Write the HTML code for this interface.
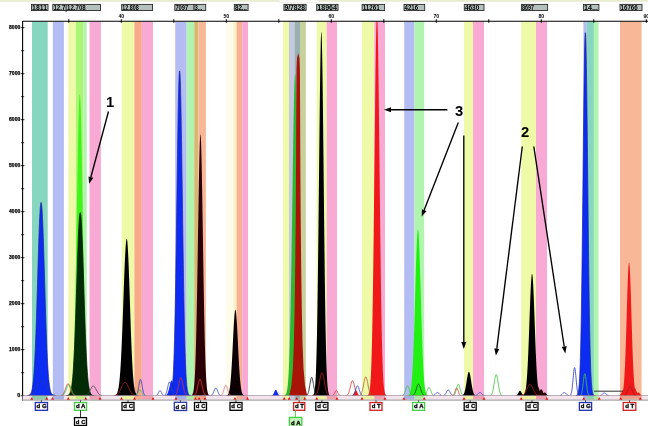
<!DOCTYPE html><html><head><meta charset="utf-8"><style>html,body{margin:0;padding:0;background:#fff;width:648px;height:426px;overflow:hidden}svg{display:block}text{font-family:"Liberation Sans",Arial,sans-serif}</style></head><body>
<svg width="648" height="426" viewBox="0 0 648 426">
<rect x="0" y="0" width="648" height="1.8" fill="#e8ecd0"/>
<rect x="279" y="0" width="40" height="2.4" fill="#fff" stroke="#e0e0d0" stroke-width="0.5"/>
<rect x="32.0" y="21.5" width="15.7" height="374.2" fill="#86d6c0"/>
<rect x="52.8" y="21.5" width="11.1" height="374.2" fill="#b4bcf4"/>
<rect x="68.3" y="21.5" width="7.6" height="374.2" fill="#eefaa8"/>
<rect x="75.9" y="21.5" width="7.5" height="374.2" fill="#acf676"/>
<rect x="83.4" y="21.5" width="3.3" height="374.2" fill="#b0f4b0"/>
<rect x="89.5" y="21.5" width="11.4" height="374.2" fill="#f8aad4"/>
<rect x="121.7" y="21.5" width="12.7" height="374.2" fill="#eefaa8"/>
<rect x="134.4" y="21.5" width="7.4" height="374.2" fill="#f8aa88"/>
<rect x="141.8" y="21.5" width="11.2" height="374.2" fill="#f8aad4"/>
<rect x="175.2" y="21.5" width="11.5" height="374.2" fill="#b4bcf4"/>
<rect x="186.7" y="21.5" width="7.5" height="374.2" fill="#b0f4b0"/>
<rect x="194.2" y="21.5" width="4.3" height="374.2" fill="#d8b870"/>
<rect x="198.5" y="21.5" width="7.4" height="374.2" fill="#f8b898"/>
<rect x="226.1" y="21.5" width="7.2" height="374.2" fill="#fefdec"/>
<rect x="233.3" y="21.5" width="3.3" height="374.2" fill="#faf2c4"/>
<rect x="236.6" y="21.5" width="5.6" height="374.2" fill="#f8b094"/>
<rect x="242.2" y="21.5" width="5.8" height="374.2" fill="#f8aad4"/>
<rect x="283.1" y="21.5" width="5.9" height="374.2" fill="#eefaa8"/>
<rect x="289.0" y="21.5" width="5.5" height="374.2" fill="#c4c8e0"/>
<rect x="294.5" y="21.5" width="5.5" height="374.2" fill="#98b0b0"/>
<rect x="300.0" y="21.5" width="5.8" height="374.2" fill="#c8d09c"/>
<rect x="316.7" y="21.5" width="10.0" height="374.2" fill="#eefaa8"/>
<rect x="326.7" y="21.5" width="10.3" height="374.2" fill="#f8aad4"/>
<rect x="362.0" y="21.5" width="12.3" height="374.2" fill="#eefaa8"/>
<rect x="374.3" y="21.5" width="10.7" height="374.2" fill="#f8aad4"/>
<rect x="404.2" y="21.5" width="10.2" height="374.2" fill="#b4bcf4"/>
<rect x="414.4" y="21.5" width="9.8" height="374.2" fill="#b0f4b0"/>
<rect x="464.0" y="21.5" width="9.0" height="374.2" fill="#eefaa8"/>
<rect x="473.0" y="21.5" width="11.0" height="374.2" fill="#f8aad4"/>
<rect x="521.3" y="21.5" width="14.7" height="374.2" fill="#eefaa8"/>
<rect x="536.0" y="21.5" width="11.0" height="374.2" fill="#f8aad4"/>
<rect x="583.4" y="21.5" width="3.4" height="374.2" fill="#b4bcf4"/>
<rect x="586.8" y="21.5" width="7.1" height="374.2" fill="#86d6c0"/>
<rect x="593.9" y="21.5" width="4.6" height="374.2" fill="#b0f4b0"/>
<rect x="620.0" y="21.5" width="21.6" height="374.2" fill="#f8b898"/>
<path d="M67.8,395.70 L67.8,395.60 L68.0,395.57 L68.2,395.53 L68.4,395.48 L68.6,395.42 L68.8,395.34 L69.0,395.24 L69.2,395.11 L69.4,394.96 L69.6,394.77 L69.8,394.54 L70.0,394.25 L70.2,393.90 L70.4,393.48 L70.6,392.97 L70.8,392.35 L71.0,391.62 L71.2,390.75 L71.4,389.72 L71.6,388.51 L71.8,387.09 L72.0,385.44 L72.2,383.53 L72.4,381.32 L72.6,378.79 L72.8,375.90 L73.0,372.61 L73.2,368.91 L73.4,364.74 L73.6,360.09 L73.8,354.92 L74.0,349.21 L74.2,342.93 L74.4,336.07 L74.6,328.62 L74.8,320.57 L75.0,311.93 L75.2,302.70 L75.4,292.92 L75.6,282.62 L75.8,271.83 L76.0,260.62 L76.2,249.04 L76.4,237.18 L76.6,225.12 L76.8,212.95 L77.0,200.79 L77.2,188.73 L77.4,176.91 L77.6,165.44 L77.8,154.44 L78.0,144.03 L78.2,134.34 L78.4,125.49 L78.6,117.57 L78.8,110.68 L79.0,104.92 L79.2,100.37 L79.4,97.07 L79.6,95.07 L79.8,94.40 L80.0,95.07 L80.2,97.07 L80.4,100.37 L80.6,104.92 L80.8,110.68 L81.0,117.57 L81.2,125.49 L81.4,134.34 L81.6,144.03 L81.8,154.44 L82.0,165.44 L82.2,176.91 L82.4,188.73 L82.6,200.79 L82.8,212.95 L83.0,225.12 L83.2,237.18 L83.4,249.04 L83.6,260.62 L83.8,271.83 L84.0,282.62 L84.2,292.92 L84.4,302.70 L84.6,311.93 L84.8,320.57 L85.0,328.62 L85.2,336.07 L85.4,342.93 L85.6,349.21 L85.8,354.92 L86.0,360.09 L86.2,364.74 L86.4,368.91 L86.6,372.61 L86.8,375.90 L87.0,378.79 L87.2,381.32 L87.4,383.53 L87.6,385.44 L87.8,387.09 L88.0,388.51 L88.2,389.72 L88.4,390.75 L88.6,391.62 L88.8,392.35 L89.0,392.97 L89.2,393.48 L89.4,393.90 L89.6,394.25 L89.8,394.54 L90.0,394.77 L90.2,394.96 L90.4,395.11 L90.6,395.24 L90.8,395.34 L91.0,395.42 L91.2,395.48 L91.4,395.53 L91.6,395.57 L91.8,395.60 L91.8,395.70 Z" fill="#42f41c"/>
<path d="M27.3,395.70 L27.3,395.64 L27.5,395.62 L27.7,395.60 L27.9,395.57 L28.1,395.54 L28.3,395.50 L28.5,395.45 L28.7,395.40 L28.9,395.33 L29.1,395.24 L29.3,395.14 L29.5,395.02 L29.7,394.88 L29.9,394.71 L30.1,394.50 L30.3,394.26 L30.5,393.98 L30.7,393.65 L30.9,393.26 L31.1,392.81 L31.3,392.28 L31.5,391.68 L31.7,390.98 L31.9,390.18 L32.1,389.27 L32.3,388.23 L32.5,387.06 L32.7,385.73 L32.9,384.24 L33.1,382.57 L33.3,380.70 L33.5,378.63 L33.7,376.34 L33.9,373.81 L34.1,371.04 L34.3,368.00 L34.5,364.70 L34.7,361.13 L34.9,357.27 L35.1,353.12 L35.3,348.68 L35.5,343.95 L35.7,338.94 L35.9,333.66 L36.1,328.11 L36.3,322.30 L36.5,316.27 L36.7,310.03 L36.9,303.62 L37.1,297.05 L37.3,290.37 L37.5,283.61 L37.7,276.82 L37.9,270.04 L38.1,263.32 L38.3,256.71 L38.5,250.26 L38.7,244.02 L38.9,238.05 L39.1,232.38 L39.3,227.08 L39.5,222.20 L39.7,217.77 L39.9,213.84 L40.1,210.45 L40.3,207.63 L40.5,205.40 L40.7,203.79 L40.9,202.82 L41.1,202.50 L41.3,202.82 L41.5,203.79 L41.7,205.40 L41.9,207.63 L42.1,210.45 L42.3,213.84 L42.5,217.77 L42.7,222.20 L42.9,227.08 L43.1,232.38 L43.3,238.05 L43.5,244.02 L43.7,250.26 L43.9,256.71 L44.1,263.32 L44.3,270.04 L44.5,276.82 L44.7,283.61 L44.9,290.37 L45.1,297.05 L45.3,303.62 L45.5,310.03 L45.7,316.27 L45.9,322.30 L46.1,328.11 L46.3,333.66 L46.5,338.94 L46.7,343.95 L46.9,348.68 L47.1,353.12 L47.3,357.27 L47.5,361.13 L47.7,364.70 L47.9,368.00 L48.1,371.04 L48.3,373.81 L48.5,376.34 L48.7,378.63 L48.9,380.70 L49.1,382.57 L49.3,384.24 L49.5,385.73 L49.7,387.06 L49.9,388.23 L50.1,389.27 L50.3,390.18 L50.5,390.98 L50.7,391.68 L50.9,392.28 L51.1,392.81 L51.3,393.26 L51.5,393.65 L51.7,393.98 L51.9,394.26 L52.1,394.50 L52.3,394.71 L52.5,394.88 L52.7,395.02 L52.9,395.14 L53.1,395.24 L53.3,395.33 L53.5,395.40 L53.7,395.45 L53.9,395.50 L54.1,395.54 L54.3,395.57 L54.5,395.60 L54.7,395.62 L54.9,395.64 L54.9,395.70 Z" fill="#0c2cf4" stroke="#1a2298" stroke-width="0.7"/>
<path d="M66.2,395.70 L66.2,395.64 L66.4,395.62 L66.6,395.60 L66.8,395.58 L67.0,395.55 L67.2,395.52 L67.4,395.47 L67.6,395.42 L67.8,395.36 L68.0,395.28 L68.2,395.19 L68.4,395.08 L68.6,394.95 L68.8,394.80 L69.0,394.61 L69.2,394.40 L69.4,394.15 L69.6,393.85 L69.8,393.50 L70.0,393.10 L70.2,392.64 L70.4,392.10 L70.6,391.49 L70.8,390.78 L71.0,389.97 L71.2,389.06 L71.4,388.02 L71.6,386.85 L71.8,385.53 L72.0,384.06 L72.2,382.42 L72.4,380.59 L72.6,378.57 L72.8,376.34 L73.0,373.88 L73.2,371.20 L73.4,368.28 L73.6,365.11 L73.8,361.69 L74.0,358.00 L74.2,354.05 L74.4,349.83 L74.6,345.35 L74.8,340.61 L75.0,335.63 L75.2,330.40 L75.4,324.95 L75.6,319.29 L75.8,313.44 L76.0,307.44 L76.2,301.30 L76.4,295.07 L76.6,288.77 L76.8,282.44 L77.0,276.13 L77.2,269.88 L77.4,263.73 L77.6,257.73 L77.8,251.92 L78.0,246.35 L78.2,241.07 L78.4,236.12 L78.6,231.55 L78.8,227.40 L79.0,223.70 L79.2,220.48 L79.4,217.79 L79.6,215.64 L79.8,214.05 L80.0,213.05 L80.2,212.63 L80.4,212.81 L80.6,213.58 L80.8,214.94 L81.0,216.86 L81.2,219.34 L81.4,222.35 L81.6,225.86 L81.8,229.84 L82.0,234.25 L82.2,239.05 L82.4,244.20 L82.6,249.66 L82.8,255.38 L83.0,261.31 L83.2,267.40 L83.4,273.62 L83.6,279.91 L83.8,286.24 L84.0,292.55 L84.2,298.82 L84.4,305.00 L84.6,311.06 L84.8,316.97 L85.0,322.71 L85.2,328.24 L85.4,333.56 L85.6,338.65 L85.8,343.49 L86.0,348.07 L86.2,352.39 L86.4,356.45 L86.6,360.24 L86.8,363.77 L87.0,367.05 L87.2,370.06 L87.4,372.84 L87.6,375.38 L87.8,377.70 L88.0,379.80 L88.2,381.71 L88.4,383.42 L88.6,384.96 L88.8,386.34 L89.0,387.57 L89.2,388.66 L89.4,389.62 L89.6,390.47 L89.8,391.21 L90.0,391.87 L90.2,392.43 L90.4,392.93 L90.6,393.35 L90.8,393.72 L91.0,394.03 L91.2,394.30 L91.4,394.53 L91.6,394.73 L91.8,394.89 L92.0,395.03 L92.2,395.15 L92.4,395.25 L92.6,395.33 L92.8,395.40 L93.0,395.45 L93.2,395.50 L93.4,395.54 L93.6,395.57 L93.8,395.59 L94.0,395.62 L94.2,395.63 L94.2,395.70 Z" fill="#032c06" stroke="#001800" stroke-width="0.7"/>
<path d="M113.3,395.70 L113.3,395.65 L113.5,395.63 L113.7,395.62 L113.9,395.59 L114.1,395.57 L114.3,395.53 L114.5,395.49 L114.7,395.44 L114.9,395.38 L115.1,395.31 L115.3,395.22 L115.5,395.12 L115.7,394.99 L115.9,394.84 L116.1,394.66 L116.3,394.44 L116.5,394.19 L116.7,393.89 L116.9,393.54 L117.1,393.14 L117.3,392.67 L117.5,392.12 L117.7,391.49 L117.9,390.77 L118.1,389.94 L118.3,389.00 L118.5,387.94 L118.7,386.73 L118.9,385.38 L119.1,383.86 L119.3,382.17 L119.5,380.29 L119.7,378.22 L119.9,375.93 L120.1,373.42 L120.3,370.69 L120.5,367.71 L120.7,364.50 L120.9,361.03 L121.1,357.32 L121.3,353.37 L121.5,349.17 L121.7,344.73 L121.9,340.07 L122.1,335.20 L122.3,330.13 L122.5,324.89 L122.7,319.50 L122.9,313.99 L123.1,308.39 L123.3,302.74 L123.5,297.08 L123.7,291.43 L123.9,285.86 L124.1,280.40 L124.3,275.09 L124.5,269.99 L124.7,265.13 L124.9,260.56 L125.1,256.33 L125.3,252.48 L125.5,249.04 L125.7,246.05 L125.9,243.53 L126.1,241.52 L126.3,240.04 L126.5,239.10 L126.7,238.71 L126.9,238.91 L127.1,239.74 L127.3,241.21 L127.5,243.29 L127.7,245.96 L127.9,249.19 L128.1,252.93 L128.3,257.15 L128.5,261.80 L128.7,266.82 L128.9,272.16 L129.1,277.76 L129.3,283.58 L129.5,289.54 L129.7,295.60 L129.9,301.70 L130.1,307.79 L130.3,313.82 L130.5,319.75 L130.7,325.54 L130.9,331.16 L131.1,336.57 L131.3,341.74 L131.5,346.67 L131.7,351.33 L131.9,355.71 L132.1,359.81 L132.3,363.62 L132.5,367.14 L132.7,370.38 L132.9,373.34 L133.1,376.04 L133.3,378.48 L133.5,380.69 L133.7,382.66 L133.9,384.42 L134.1,385.98 L134.3,387.36 L134.5,388.58 L134.7,389.64 L134.9,390.56 L135.1,391.37 L135.3,392.06 L135.5,392.65 L135.7,393.16 L135.9,393.59 L136.1,393.96 L136.3,394.26 L136.5,394.52 L136.7,394.74 L136.9,394.92 L137.1,395.07 L137.3,395.19 L137.5,395.29 L137.7,395.37 L137.9,395.44 L138.1,395.49 L138.3,395.54 L138.5,395.57 L138.7,395.60 L138.9,395.62 L139.1,395.64 L139.1,395.70 Z" fill="#000"/>
<path d="M163.2,395.70 L163.2,395.69 L163.4,395.69 L163.6,395.69 L163.8,395.68 L164.0,395.68 L164.2,395.67 L164.4,395.66 L164.6,395.64 L164.8,395.62 L165.0,395.59 L165.2,395.55 L165.4,395.51 L165.6,395.44 L165.8,395.37 L166.0,395.27 L166.2,395.14 L166.4,394.99 L166.6,394.81 L166.8,394.59 L167.0,394.32 L167.2,394.01 L167.4,393.65 L167.6,393.23 L167.8,392.75 L168.0,392.21 L168.2,391.61 L168.4,390.95 L168.6,390.23 L168.8,389.46 L169.0,388.65 L169.2,387.80 L169.4,386.93 L169.6,386.05 L169.8,385.19 L170.0,384.34 L170.2,383.54 L170.4,382.81 L170.6,382.15 L170.8,381.58 L171.0,381.13 L171.2,380.79 L171.4,380.59 L171.6,380.52 L171.8,380.59 L172.0,380.79 L172.2,381.13 L172.4,381.58 L172.6,382.15 L172.8,382.81 L173.0,383.54 L173.2,384.34 L173.4,385.19 L173.6,386.05 L173.8,386.93 L174.0,387.80 L174.2,388.65 L174.4,389.46 L174.6,390.23 L174.8,390.95 L175.0,391.61 L175.2,392.21 L175.4,392.75 L175.6,393.23 L175.8,393.65 L176.0,394.01 L176.2,394.32 L176.4,394.59 L176.6,394.81 L176.8,394.99 L177.0,395.14 L177.2,395.27 L177.4,395.37 L177.6,395.44 L177.8,395.51 L178.0,395.55 L178.2,395.59 L178.4,395.62 L178.6,395.64 L178.8,395.66 L179.0,395.67 L179.2,395.68 L179.4,395.68 L179.6,395.69 L179.8,395.69 L180.0,395.69 L180.0,395.70 Z" fill="#0c2cf4"/>
<path d="M168.7,395.70 L168.7,395.59 L168.9,395.55 L169.1,395.51 L169.3,395.44 L169.5,395.36 L169.7,395.26 L169.9,395.13 L170.1,394.96 L170.3,394.74 L170.5,394.47 L170.7,394.14 L170.9,393.72 L171.1,393.21 L171.3,392.57 L171.5,391.80 L171.7,390.87 L171.9,389.74 L172.1,388.38 L172.3,386.77 L172.5,384.86 L172.7,382.62 L172.9,379.99 L173.1,376.94 L173.3,373.41 L173.5,369.36 L173.7,364.74 L173.9,359.51 L174.1,353.62 L174.3,347.03 L174.5,339.71 L174.7,331.64 L174.9,322.79 L175.1,313.17 L175.3,302.78 L175.5,291.63 L175.7,279.78 L175.9,267.27 L176.1,254.16 L176.3,240.56 L176.5,226.56 L176.7,212.28 L176.9,197.86 L177.1,183.45 L177.3,169.21 L177.5,155.31 L177.7,141.92 L177.9,129.21 L178.1,117.37 L178.3,106.56 L178.5,96.94 L178.7,88.65 L178.9,81.82 L179.1,76.55 L179.3,72.93 L179.5,71.02 L179.7,70.85 L179.9,72.41 L180.1,75.69 L180.3,80.64 L180.5,87.16 L180.7,95.17 L180.9,104.54 L181.1,115.12 L181.3,126.77 L181.5,139.32 L181.7,152.58 L181.9,166.40 L182.1,180.58 L182.3,194.97 L182.5,209.40 L182.7,223.72 L182.9,237.79 L183.1,251.48 L183.3,264.69 L183.5,277.33 L183.7,289.32 L183.9,300.61 L184.1,311.15 L184.3,320.93 L184.5,329.93 L184.7,338.16 L184.9,345.63 L185.1,352.36 L185.3,358.39 L185.5,363.75 L185.7,368.48 L185.9,372.64 L186.1,376.27 L186.3,379.42 L186.5,382.13 L186.7,384.44 L186.9,386.42 L187.1,388.08 L187.3,389.49 L187.5,390.66 L187.7,391.63 L187.9,392.43 L188.1,393.09 L188.3,393.63 L188.5,394.06 L188.7,394.41 L188.9,394.69 L189.1,394.92 L189.3,395.09 L189.5,395.23 L189.7,395.34 L189.9,395.43 L190.1,395.49 L190.3,395.55 L190.5,395.58 L190.5,395.70 Z" fill="#0c2cf4" stroke="#1a2298" stroke-width="0.7"/>
<path d="M190.6,395.70 L190.6,395.61 L190.8,395.58 L191.0,395.53 L191.2,395.47 L191.4,395.39 L191.6,395.29 L191.8,395.15 L192.0,394.97 L192.2,394.74 L192.4,394.45 L192.6,394.07 L192.8,393.60 L193.0,393.00 L193.2,392.26 L193.4,391.34 L193.6,390.22 L193.8,388.85 L194.0,387.20 L194.2,385.22 L194.4,382.86 L194.6,380.08 L194.8,376.82 L195.0,373.02 L195.2,368.65 L195.4,363.64 L195.6,357.95 L195.8,351.55 L196.0,344.40 L196.2,336.49 L196.4,327.81 L196.6,318.36 L196.8,308.19 L197.0,297.33 L197.2,285.85 L197.4,273.84 L197.6,261.40 L197.8,248.67 L198.0,235.80 L198.2,222.94 L198.4,210.28 L198.6,198.00 L198.8,186.30 L199.0,175.37 L199.2,165.39 L199.4,156.55 L199.6,149.00 L199.8,142.89 L200.0,138.34 L200.2,135.43 L200.4,134.22 L200.6,134.74 L200.8,136.98 L201.0,140.88 L201.2,146.38 L201.4,153.36 L201.6,161.71 L201.8,171.25 L202.0,181.82 L202.2,193.24 L202.4,205.31 L202.6,217.84 L202.8,230.64 L203.0,243.53 L203.2,256.34 L203.4,268.91 L203.6,281.10 L203.8,292.81 L204.0,303.92 L204.2,314.38 L204.4,324.12 L204.6,333.11 L204.8,341.33 L205.0,348.78 L205.2,355.48 L205.4,361.45 L205.6,366.72 L205.8,371.34 L206.0,375.37 L206.2,378.83 L206.4,381.80 L206.6,384.33 L206.8,386.45 L207.0,388.23 L207.2,389.71 L207.4,390.92 L207.6,391.92 L207.8,392.72 L208.0,393.37 L208.2,393.89 L208.4,394.31 L208.6,394.63 L208.8,394.89 L209.0,395.09 L209.2,395.24 L209.4,395.36 L209.6,395.44 L209.8,395.51 L210.0,395.56 L210.2,395.60 L210.2,395.70 Z" fill="#2a0008"/>
<path d="M225.2,395.70 L225.2,395.67 L225.4,395.66 L225.6,395.65 L225.8,395.63 L226.0,395.60 L226.2,395.57 L226.4,395.53 L226.6,395.48 L226.8,395.41 L227.0,395.32 L227.2,395.21 L227.4,395.07 L227.6,394.90 L227.8,394.69 L228.0,394.42 L228.2,394.10 L228.4,393.71 L228.6,393.24 L228.8,392.68 L229.0,392.01 L229.2,391.22 L229.4,390.30 L229.6,389.23 L229.8,387.98 L230.0,386.56 L230.2,384.94 L230.4,383.12 L230.6,381.07 L230.8,378.80 L231.0,376.29 L231.2,373.54 L231.4,370.56 L231.6,367.36 L231.8,363.95 L232.0,360.34 L232.2,356.56 L232.4,352.64 L232.6,348.63 L232.8,344.55 L233.0,340.46 L233.2,336.41 L233.4,332.46 L233.6,328.65 L233.8,325.05 L234.0,321.71 L234.2,318.70 L234.4,316.05 L234.6,313.81 L234.8,312.03 L235.0,310.73 L235.2,309.94 L235.4,309.68 L235.6,309.94 L235.8,310.73 L236.0,312.03 L236.2,313.81 L236.4,316.05 L236.6,318.70 L236.8,321.71 L237.0,325.05 L237.2,328.65 L237.4,332.46 L237.6,336.41 L237.8,340.46 L238.0,344.55 L238.2,348.63 L238.4,352.64 L238.6,356.56 L238.8,360.34 L239.0,363.95 L239.2,367.36 L239.4,370.56 L239.6,373.54 L239.8,376.29 L240.0,378.80 L240.2,381.07 L240.4,383.12 L240.6,384.94 L240.8,386.56 L241.0,387.98 L241.2,389.23 L241.4,390.30 L241.6,391.22 L241.8,392.01 L242.0,392.68 L242.2,393.24 L242.4,393.71 L242.6,394.10 L242.8,394.42 L243.0,394.69 L243.2,394.90 L243.4,395.07 L243.6,395.21 L243.8,395.32 L244.0,395.41 L244.2,395.48 L244.4,395.53 L244.6,395.57 L244.8,395.60 L245.0,395.63 L245.2,395.65 L245.4,395.66 L245.6,395.67 L245.6,395.70 Z" fill="#0c0004"/>
<path d="M269.8,395.70 L269.8,395.70 L270.0,395.70 L270.2,395.69 L270.4,395.69 L270.6,395.69 L270.8,395.68 L271.0,395.66 L271.2,395.65 L271.4,395.62 L271.6,395.58 L271.8,395.53 L272.0,395.46 L272.2,395.36 L272.4,395.24 L272.6,395.09 L272.8,394.89 L273.0,394.65 L273.2,394.37 L273.4,394.04 L273.6,393.66 L273.8,393.24 L274.0,392.79 L274.2,392.31 L274.4,391.83 L274.6,391.36 L274.8,390.91 L275.0,390.51 L275.2,390.18 L275.4,389.93 L275.6,389.77 L275.8,389.72 L276.0,389.77 L276.2,389.93 L276.4,390.18 L276.6,390.51 L276.8,390.91 L277.0,391.36 L277.2,391.83 L277.4,392.31 L277.6,392.79 L277.8,393.24 L278.0,393.66 L278.2,394.04 L278.4,394.37 L278.6,394.65 L278.8,394.89 L279.0,395.09 L279.2,395.24 L279.4,395.36 L279.6,395.46 L279.8,395.53 L280.0,395.58 L280.2,395.62 L280.4,395.65 L280.6,395.66 L280.8,395.68 L281.0,395.69 L281.2,395.69 L281.4,395.69 L281.6,395.70 L281.8,395.70 L281.8,395.70 Z" fill="#0c2cf4"/>
<path d="M283.8,395.70 L283.8,395.59 L284.0,395.56 L284.2,395.51 L284.4,395.45 L284.6,395.38 L284.8,395.29 L285.0,395.17 L285.2,395.02 L285.4,394.83 L285.6,394.59 L285.8,394.30 L286.0,393.94 L286.2,393.50 L286.4,392.96 L286.6,392.31 L286.8,391.52 L287.0,390.57 L287.2,389.44 L287.4,388.09 L287.6,386.50 L287.8,384.64 L288.0,382.46 L288.2,379.93 L288.4,377.01 L288.6,373.65 L288.8,369.83 L289.0,365.49 L289.2,360.59 L289.4,355.10 L289.6,348.98 L289.8,342.21 L290.0,334.75 L290.2,326.60 L290.4,317.73 L290.6,308.17 L290.8,297.91 L291.0,286.99 L291.2,275.44 L291.4,263.32 L291.6,250.70 L291.8,237.64 L292.0,224.27 L292.2,210.67 L292.4,196.97 L292.6,183.31 L292.8,169.83 L293.0,156.66 L293.2,143.98 L293.4,131.92 L293.6,120.65 L293.8,110.30 L294.0,101.01 L294.2,92.92 L294.4,86.14 L294.6,80.76 L294.8,76.86 L295.0,74.49 L295.2,73.70 L295.4,74.49 L295.6,76.86 L295.8,80.76 L296.0,86.14 L296.2,92.92 L296.4,101.01 L296.6,110.30 L296.8,120.65 L297.0,131.92 L297.2,143.98 L297.4,156.66 L297.6,169.83 L297.8,183.31 L298.0,196.97 L298.2,210.67 L298.4,224.27 L298.6,237.64 L298.8,250.70 L299.0,263.32 L299.2,275.44 L299.4,286.99 L299.6,297.91 L299.8,308.17 L300.0,317.73 L300.2,326.60 L300.4,334.75 L300.6,342.21 L300.8,348.98 L301.0,355.10 L301.2,360.59 L301.4,365.49 L301.6,369.83 L301.8,373.65 L302.0,377.01 L302.2,379.93 L302.4,382.46 L302.6,384.64 L302.8,386.50 L303.0,388.09 L303.2,389.44 L303.4,390.57 L303.6,391.52 L303.8,392.31 L304.0,392.96 L304.2,393.50 L304.4,393.94 L304.6,394.30 L304.8,394.59 L305.0,394.83 L305.2,395.02 L305.4,395.17 L305.6,395.29 L305.8,395.38 L306.0,395.45 L306.2,395.51 L306.4,395.56 L306.6,395.59 L306.6,395.70 Z" fill="#2cb82c"/>
<path d="M289.20,395.70 L291.40,385.42 L292.90,368.28 L293.90,342.58 L294.60,310.02 L295.30,258.62 L295.80,207.21 L296.10,155.81 L296.30,104.41 L296.50,70.13 L297.00,58.14 L298.20,53.00 L298.20,53.00 L299.40,58.14 L299.90,70.13 L300.10,104.41 L300.30,155.81 L300.60,207.21 L301.10,258.62 L301.80,310.02 L302.50,342.58 L303.50,368.28 L305.00,385.42 L307.20,395.70 Z" fill="#a81408"/>
<path d="M312.1,395.70 L312.1,395.58 L312.3,395.53 L312.5,395.46 L312.7,395.37 L312.9,395.24 L313.1,395.07 L313.3,394.85 L313.5,394.55 L313.7,394.17 L313.9,393.67 L314.1,393.02 L314.3,392.20 L314.5,391.16 L314.7,389.85 L314.9,388.23 L315.1,386.23 L315.3,383.77 L315.5,380.80 L315.7,377.22 L315.9,372.96 L316.1,367.92 L316.3,362.02 L316.5,355.17 L316.7,347.29 L316.9,338.31 L317.1,328.17 L317.3,316.83 L317.5,304.28 L317.7,290.52 L317.9,275.60 L318.1,259.58 L318.3,242.58 L318.5,224.75 L318.7,206.26 L318.9,187.34 L319.1,168.24 L319.3,149.24 L319.5,130.65 L319.7,112.79 L319.9,95.98 L320.1,80.54 L320.3,66.78 L320.5,54.99 L320.7,45.41 L320.9,38.25 L321.1,33.66 L321.3,31.76 L321.5,32.57 L321.7,36.10 L321.9,42.24 L322.1,50.88 L322.3,61.82 L322.5,74.82 L322.7,89.62 L322.9,105.92 L323.1,123.40 L323.3,141.74 L323.5,160.61 L323.7,179.70 L323.9,198.73 L324.1,217.42 L324.3,235.54 L324.5,252.89 L324.7,269.32 L324.9,284.69 L325.1,298.92 L325.3,311.96 L325.5,323.78 L325.7,334.39 L325.9,343.83 L326.1,352.14 L326.3,359.40 L326.5,365.67 L326.7,371.04 L326.9,375.60 L327.1,379.45 L327.3,382.65 L327.5,385.30 L327.7,387.48 L327.9,389.25 L328.1,390.67 L328.3,391.81 L328.5,392.72 L328.7,393.43 L328.9,393.98 L329.1,394.41 L329.3,394.74 L329.5,394.99 L329.7,395.18 L329.9,395.32 L330.1,395.43 L330.3,395.50 L330.5,395.56 L330.5,395.70 Z" fill="#000"/>
<path d="M349.8,395.70 L349.8,395.70 L350.0,395.70 L350.2,395.69 L350.4,395.69 L350.6,395.69 L350.8,395.68 L351.0,395.67 L351.2,395.65 L351.4,395.63 L351.6,395.59 L351.8,395.54 L352.0,395.48 L352.2,395.39 L352.4,395.28 L352.6,395.13 L352.8,394.95 L353.0,394.73 L353.2,394.47 L353.4,394.17 L353.6,393.82 L353.8,393.43 L354.0,393.01 L354.2,392.57 L354.4,392.13 L354.6,391.69 L354.8,391.28 L355.0,390.91 L355.2,390.60 L355.4,390.37 L355.6,390.23 L355.8,390.18 L356.0,390.23 L356.2,390.37 L356.4,390.60 L356.6,390.91 L356.8,391.28 L357.0,391.69 L357.2,392.13 L357.4,392.57 L357.6,393.01 L357.8,393.43 L358.0,393.82 L358.2,394.17 L358.4,394.47 L358.6,394.73 L358.8,394.95 L359.0,395.13 L359.2,395.28 L359.4,395.39 L359.6,395.48 L359.8,395.54 L360.0,395.59 L360.2,395.63 L360.4,395.65 L360.6,395.67 L360.8,395.68 L361.0,395.69 L361.2,395.69 L361.4,395.69 L361.6,395.70 L361.8,395.70 L361.8,395.70 Z" fill="#f01818"/>
<path d="M366.9,395.70 L366.9,395.57 L367.1,395.52 L367.3,395.46 L367.5,395.38 L367.7,395.27 L367.9,395.12 L368.1,394.93 L368.3,394.69 L368.5,394.37 L368.7,393.97 L368.9,393.46 L369.1,392.83 L369.3,392.03 L369.5,391.04 L369.7,389.82 L369.9,388.32 L370.1,386.51 L370.3,384.32 L370.5,381.70 L370.7,378.59 L370.9,374.91 L371.1,370.60 L371.3,365.59 L371.5,359.81 L371.7,353.18 L371.9,345.65 L372.1,337.15 L372.3,327.64 L372.5,317.08 L372.7,305.45 L372.9,292.75 L373.1,279.00 L373.3,264.25 L373.5,248.56 L373.7,232.03 L373.9,214.79 L374.1,196.99 L374.3,178.81 L374.5,160.45 L374.7,142.14 L374.9,124.12 L375.1,106.65 L375.3,89.98 L375.5,74.38 L375.7,60.11 L375.9,47.40 L376.1,36.48 L376.3,27.55 L376.5,21.50 L376.7,21.50 L376.9,21.50 L377.1,21.50 L377.3,21.50 L377.5,21.94 L377.7,29.17 L377.9,38.51 L378.1,49.81 L378.3,62.84 L378.5,77.40 L378.7,93.23 L378.9,110.08 L379.1,127.69 L379.3,145.79 L379.5,164.13 L379.7,182.47 L379.9,200.59 L380.1,218.29 L380.3,235.40 L380.5,251.77 L380.7,267.28 L380.9,281.83 L381.1,295.38 L381.3,307.86 L381.5,319.28 L381.7,329.62 L381.9,338.93 L382.1,347.23 L382.3,354.58 L382.5,361.03 L382.7,366.66 L382.9,371.52 L383.1,375.70 L383.3,379.25 L383.5,382.27 L383.7,384.79 L383.9,386.90 L384.1,388.65 L384.3,390.08 L384.5,391.25 L384.7,392.20 L384.9,392.97 L385.1,393.58 L385.3,394.06 L385.5,394.44 L385.7,394.74 L385.9,394.97 L386.1,395.15 L386.3,395.29 L386.5,395.40 L386.7,395.48 L386.9,395.54 L386.9,395.70 Z" fill="#f01818"/>
<path d="M406.7,395.70 L406.7,395.64 L406.9,395.63 L407.1,395.60 L407.3,395.57 L407.5,395.53 L407.7,395.48 L407.9,395.42 L408.1,395.34 L408.3,395.24 L408.5,395.11 L408.7,394.96 L408.9,394.77 L409.1,394.53 L409.3,394.24 L409.5,393.89 L409.7,393.46 L409.9,392.95 L410.1,392.34 L410.3,391.62 L410.5,390.76 L410.7,389.75 L410.9,388.58 L411.1,387.21 L411.3,385.63 L411.5,383.82 L411.7,381.75 L411.9,379.40 L412.1,376.76 L412.3,373.80 L412.5,370.50 L412.7,366.84 L412.9,362.83 L413.1,358.44 L413.3,353.69 L413.5,348.56 L413.7,343.07 L413.9,337.23 L414.1,331.08 L414.3,324.63 L414.5,317.94 L414.7,311.04 L414.9,303.99 L415.1,296.85 L415.3,289.69 L415.5,282.58 L415.7,275.61 L415.9,268.84 L416.1,262.36 L416.3,256.26 L416.5,250.60 L416.7,245.48 L416.9,240.95 L417.1,237.09 L417.3,233.95 L417.5,231.57 L417.7,230.00 L417.9,229.25 L418.1,229.33 L418.3,230.25 L418.5,231.99 L418.7,234.52 L418.9,237.81 L419.1,241.81 L419.3,246.46 L419.5,251.69 L419.7,257.44 L419.9,263.63 L420.1,270.17 L420.3,276.99 L420.5,284.00 L420.7,291.12 L420.9,298.28 L421.1,305.41 L421.3,312.43 L421.5,319.29 L421.7,325.94 L421.9,332.33 L422.1,338.42 L422.3,344.19 L422.5,349.61 L422.7,354.67 L422.9,359.35 L423.1,363.66 L423.3,367.60 L423.5,371.18 L423.7,374.42 L423.9,377.31 L424.1,379.90 L424.3,382.19 L424.5,384.20 L424.7,385.96 L424.9,387.50 L425.1,388.83 L425.3,389.97 L425.5,390.94 L425.7,391.77 L425.9,392.47 L426.1,393.06 L426.3,393.56 L426.5,393.96 L426.7,394.30 L426.9,394.58 L427.1,394.81 L427.3,394.99 L427.5,395.14 L427.7,395.26 L427.9,395.36 L428.1,395.43 L428.3,395.49 L428.5,395.54 L428.7,395.58 L428.9,395.61 L429.1,395.63 L429.1,395.70 Z" fill="#22f012"/>
<path d="M459.9,395.70 L459.9,395.69 L460.1,395.69 L460.3,395.68 L460.5,395.68 L460.7,395.67 L460.9,395.66 L461.1,395.64 L461.3,395.62 L461.5,395.59 L461.7,395.56 L461.9,395.51 L462.1,395.45 L462.3,395.38 L462.5,395.28 L462.7,395.16 L462.9,395.02 L463.1,394.84 L463.3,394.62 L463.5,394.36 L463.7,394.04 L463.9,393.67 L464.1,393.24 L464.3,392.74 L464.5,392.17 L464.7,391.51 L464.9,390.77 L465.1,389.95 L465.3,389.05 L465.5,388.06 L465.7,387.00 L465.9,385.87 L466.1,384.67 L466.3,383.43 L466.5,382.16 L466.7,380.87 L466.9,379.59 L467.1,378.33 L467.3,377.12 L467.5,375.99 L467.7,374.95 L467.9,374.03 L468.1,373.25 L468.3,372.62 L468.5,372.16 L468.7,371.87 L468.9,371.78 L469.1,371.87 L469.3,372.16 L469.5,372.62 L469.7,373.25 L469.9,374.03 L470.1,374.95 L470.3,375.99 L470.5,377.12 L470.7,378.33 L470.9,379.59 L471.1,380.87 L471.3,382.16 L471.5,383.43 L471.7,384.67 L471.9,385.87 L472.1,387.00 L472.3,388.06 L472.5,389.05 L472.7,389.95 L472.9,390.77 L473.1,391.51 L473.3,392.17 L473.5,392.74 L473.7,393.24 L473.9,393.67 L474.1,394.04 L474.3,394.36 L474.5,394.62 L474.7,394.84 L474.9,395.02 L475.1,395.16 L475.3,395.28 L475.5,395.38 L475.7,395.45 L475.9,395.51 L476.1,395.56 L476.3,395.59 L476.5,395.62 L476.7,395.64 L476.9,395.66 L477.1,395.67 L477.3,395.68 L477.5,395.68 L477.7,395.69 L477.9,395.69 L477.9,395.70 Z" fill="#000"/>
<path d="M514.0,395.70 L514.0,395.70 L514.2,395.70 L514.4,395.70 L514.6,395.69 L514.8,395.69 L515.0,395.68 L515.2,395.67 L515.4,395.65 L515.6,395.63 L515.8,395.60 L516.0,395.56 L516.2,395.50 L516.4,395.42 L516.6,395.31 L516.8,395.18 L517.0,395.02 L517.2,394.81 L517.4,394.57 L517.6,394.29 L517.8,393.97 L518.0,393.62 L518.2,393.24 L518.4,392.84 L518.6,392.43 L518.8,392.03 L519.0,391.65 L519.2,391.31 L519.4,391.03 L519.6,390.82 L519.8,390.68 L520.0,390.64 L520.2,390.68 L520.4,390.82 L520.6,391.03 L520.8,391.31 L521.0,391.65 L521.2,392.03 L521.4,392.43 L521.6,392.84 L521.8,393.24 L522.0,393.62 L522.2,393.97 L522.4,394.29 L522.6,394.57 L522.8,394.81 L523.0,395.02 L523.2,395.18 L523.4,395.31 L523.6,395.42 L523.8,395.50 L524.0,395.56 L524.2,395.60 L524.4,395.63 L524.6,395.65 L524.8,395.67 L525.0,395.68 L525.2,395.69 L525.4,395.69 L525.6,395.70 L525.8,395.70 L526.0,395.70 L526.0,395.70 Z" fill="#000"/>
<path d="M521.6,395.70 L521.6,395.66 L521.8,395.64 L522.0,395.63 L522.2,395.60 L522.4,395.57 L522.6,395.52 L522.8,395.47 L523.0,395.40 L523.2,395.31 L523.4,395.19 L523.6,395.05 L523.8,394.87 L524.0,394.64 L524.2,394.36 L524.4,394.02 L524.6,393.60 L524.8,393.10 L525.0,392.49 L525.2,391.77 L525.4,390.91 L525.6,389.89 L525.8,388.70 L526.0,387.32 L526.2,385.73 L526.4,383.90 L526.6,381.81 L526.8,379.45 L527.0,376.81 L527.2,373.86 L527.4,370.60 L527.6,367.02 L527.8,363.12 L528.0,358.91 L528.2,354.40 L528.4,349.61 L528.6,344.56 L528.8,339.29 L529.0,333.84 L529.2,328.26 L529.4,322.61 L529.6,316.96 L529.8,311.36 L530.0,305.89 L530.2,300.62 L530.4,295.64 L530.6,291.01 L530.8,286.81 L531.0,283.10 L531.2,279.95 L531.4,277.41 L531.6,275.52 L531.8,274.31 L532.0,273.81 L532.2,274.03 L532.4,274.95 L532.6,276.57 L532.8,278.86 L533.0,281.77 L533.2,285.26 L533.4,289.27 L533.6,293.74 L533.8,298.59 L534.0,303.75 L534.2,309.15 L534.4,314.70 L534.6,320.35 L534.8,326.01 L535.0,331.62 L535.2,337.13 L535.4,342.47 L535.6,347.61 L535.8,352.51 L536.0,357.14 L536.2,361.47 L536.4,365.50 L536.6,369.20 L536.8,372.59 L537.0,375.67 L537.2,378.43 L537.4,380.90 L537.6,383.09 L537.8,385.02 L538.0,386.71 L538.2,388.18 L538.4,389.44 L538.6,390.52 L538.8,391.44 L539.0,392.22 L539.2,392.87 L539.4,393.41 L539.6,393.86 L539.8,394.23 L540.0,394.54 L540.2,394.78 L540.4,394.98 L540.6,395.14 L540.8,395.26 L541.0,395.36 L541.2,395.44 L541.4,395.50 L541.6,395.55 L541.8,395.59 L542.0,395.62 L542.2,395.64 L542.4,395.65 L542.4,395.70 Z" fill="#000"/>
<path d="M520.6,395.70 L520.6,395.70 L520.8,395.70 L521.0,395.69 L521.2,395.69 L521.4,395.68 L521.6,395.68 L521.8,395.66 L522.0,395.65 L522.2,395.62 L522.4,395.59 L522.6,395.54 L522.8,395.48 L523.0,395.39 L523.2,395.29 L523.4,395.15 L523.6,394.98 L523.8,394.76 L524.0,394.51 L524.2,394.20 L524.4,393.85 L524.6,393.44 L524.8,392.98 L525.0,392.49 L525.2,391.95 L525.4,391.39 L525.6,390.81 L525.8,390.24 L526.0,389.70 L526.2,389.19 L526.4,388.75 L526.6,388.38 L526.8,388.11 L527.0,387.94 L527.2,387.88 L527.4,387.94 L527.6,388.11 L527.8,388.38 L528.0,388.75 L528.2,389.19 L528.4,389.70 L528.6,390.24 L528.8,390.81 L529.0,391.39 L529.2,391.95 L529.4,392.49 L529.6,392.98 L529.8,393.44 L530.0,393.85 L530.2,394.20 L530.4,394.51 L530.6,394.76 L530.8,394.98 L531.0,395.15 L531.2,395.29 L531.4,395.39 L531.6,395.48 L531.8,395.54 L532.0,395.59 L532.2,395.62 L532.4,395.65 L532.6,395.66 L532.8,395.68 L533.0,395.68 L533.2,395.69 L533.4,395.69 L533.6,395.70 L533.8,395.70 L533.8,395.70 Z" fill="#000"/>
<path d="M530.4,395.70 L530.4,395.70 L530.6,395.69 L530.8,395.69 L531.0,395.69 L531.2,395.68 L531.4,395.67 L531.6,395.66 L531.8,395.65 L532.0,395.62 L532.2,395.59 L532.4,395.55 L532.6,395.50 L532.8,395.42 L533.0,395.33 L533.2,395.21 L533.4,395.07 L533.6,394.88 L533.8,394.66 L534.0,394.39 L534.2,394.08 L534.4,393.71 L534.6,393.29 L534.8,392.82 L535.0,392.30 L535.2,391.73 L535.4,391.12 L535.6,390.49 L535.8,389.84 L536.0,389.19 L536.2,388.56 L536.4,387.96 L536.6,387.42 L536.8,386.95 L537.0,386.56 L537.2,386.28 L537.4,386.10 L537.6,386.04 L537.8,386.10 L538.0,386.28 L538.2,386.56 L538.4,386.95 L538.6,387.42 L538.8,387.96 L539.0,388.56 L539.2,389.19 L539.4,389.84 L539.6,390.49 L539.8,391.12 L540.0,391.73 L540.2,392.30 L540.4,392.82 L540.6,393.29 L540.8,393.71 L541.0,394.08 L541.2,394.39 L541.4,394.66 L541.6,394.88 L541.8,395.07 L542.0,395.21 L542.2,395.33 L542.4,395.42 L542.6,395.50 L542.8,395.55 L543.0,395.59 L543.2,395.62 L543.4,395.65 L543.6,395.66 L543.8,395.67 L544.0,395.68 L544.2,395.69 L544.4,395.69 L544.6,395.69 L544.8,395.70 L544.8,395.70 Z" fill="#1a0000"/>
<path d="M534.0,395.70 L534.0,395.70 L534.2,395.70 L534.4,395.69 L534.6,395.69 L534.8,395.69 L535.0,395.68 L535.2,395.68 L535.4,395.66 L535.6,395.65 L535.8,395.63 L536.0,395.60 L536.2,395.56 L536.4,395.52 L536.6,395.45 L536.8,395.38 L537.0,395.28 L537.2,395.15 L537.4,395.01 L537.6,394.83 L537.8,394.62 L538.0,394.37 L538.2,394.09 L538.4,393.78 L538.6,393.43 L538.8,393.05 L539.0,392.65 L539.2,392.23 L539.4,391.79 L539.6,391.36 L539.8,390.94 L540.0,390.54 L540.2,390.18 L540.4,389.87 L540.6,389.61 L540.8,389.42 L541.0,389.30 L541.2,389.26 L541.4,389.30 L541.6,389.42 L541.8,389.61 L542.0,389.87 L542.2,390.18 L542.4,390.54 L542.6,390.94 L542.8,391.36 L543.0,391.79 L543.2,392.23 L543.4,392.65 L543.6,393.05 L543.8,393.43 L544.0,393.78 L544.2,394.09 L544.4,394.37 L544.6,394.62 L544.8,394.83 L545.0,395.01 L545.2,395.15 L545.4,395.28 L545.6,395.38 L545.8,395.45 L546.0,395.52 L546.2,395.56 L546.4,395.60 L546.6,395.63 L546.8,395.65 L547.0,395.66 L547.2,395.68 L547.4,395.68 L547.6,395.69 L547.8,395.69 L548.0,395.69 L548.2,395.70 L548.4,395.70 L548.4,395.70 Z" fill="#2a0404"/>
<path d="M538.8,395.70 L538.8,395.70 L539.0,395.70 L539.2,395.70 L539.4,395.70 L539.6,395.69 L539.8,395.69 L540.0,395.68 L540.2,395.67 L540.4,395.66 L540.6,395.64 L540.8,395.61 L541.0,395.57 L541.2,395.52 L541.4,395.45 L541.6,395.37 L541.8,395.26 L542.0,395.14 L542.2,394.98 L542.4,394.80 L542.6,394.60 L542.8,394.38 L543.0,394.13 L543.2,393.88 L543.4,393.62 L543.6,393.36 L543.8,393.12 L544.0,392.91 L544.2,392.73 L544.4,392.59 L544.6,392.51 L544.8,392.48 L545.0,392.51 L545.2,392.59 L545.4,392.73 L545.6,392.91 L545.8,393.12 L546.0,393.36 L546.2,393.62 L546.4,393.88 L546.6,394.13 L546.8,394.38 L547.0,394.60 L547.2,394.80 L547.4,394.98 L547.6,395.14 L547.8,395.26 L548.0,395.37 L548.2,395.45 L548.4,395.52 L548.6,395.57 L548.8,395.61 L549.0,395.64 L549.2,395.66 L549.4,395.67 L549.6,395.68 L549.8,395.69 L550.0,395.69 L550.2,395.70 L550.4,395.70 L550.6,395.70 L550.8,395.70 L550.8,395.70 Z" fill="#300404"/>
<path d="M576.0,395.70 L576.0,395.58 L576.2,395.53 L576.4,395.46 L576.6,395.37 L576.8,395.25 L577.0,395.09 L577.2,394.87 L577.4,394.59 L577.6,394.21 L577.8,393.73 L578.0,393.12 L578.2,392.34 L578.4,391.35 L578.6,390.11 L578.8,388.56 L579.0,386.67 L579.2,384.35 L579.4,381.53 L579.6,378.15 L579.8,374.12 L580.0,369.36 L580.2,363.78 L580.4,357.30 L580.6,349.84 L580.8,341.33 L581.0,331.71 L581.2,320.93 L581.4,308.98 L581.6,295.85 L581.8,281.57 L582.0,266.20 L582.2,249.82 L582.4,232.57 L582.6,214.60 L582.8,196.13 L583.0,177.36 L583.2,158.58 L583.4,140.05 L583.6,122.07 L583.8,104.97 L584.0,89.05 L584.2,74.60 L584.4,61.93 L584.6,51.28 L584.8,42.87 L585.0,36.89 L585.2,33.47 L585.4,32.68 L585.6,34.53 L585.8,38.98 L586.0,45.95 L586.2,55.28 L586.4,66.77 L586.6,80.18 L586.8,95.25 L587.0,111.69 L587.2,129.18 L587.4,147.41 L587.6,166.08 L587.8,184.89 L588.0,203.57 L588.2,221.86 L588.4,239.56 L588.6,256.48 L588.8,272.47 L589.0,287.42 L589.2,301.24 L589.4,313.90 L589.6,325.38 L589.8,335.69 L590.0,344.86 L590.2,352.94 L590.4,360.00 L590.6,366.11 L590.8,371.36 L591.0,375.82 L591.2,379.58 L591.4,382.72 L591.6,385.33 L591.8,387.47 L592.0,389.22 L592.2,390.63 L592.4,391.77 L592.6,392.67 L592.8,393.38 L593.0,393.94 L593.2,394.37 L593.4,394.71 L593.6,394.96 L593.8,395.16 L594.0,395.30 L594.2,395.41 L594.4,395.49 L594.6,395.55 L594.6,395.70 Z" fill="#0c2cf4" stroke="#1a2298" stroke-width="0.7"/>
<path d="M619.6,395.70 L619.6,395.66 L619.8,395.64 L620.0,395.61 L620.2,395.58 L620.4,395.54 L620.6,395.48 L620.8,395.40 L621.0,395.30 L621.2,395.17 L621.4,395.00 L621.6,394.78 L621.8,394.51 L622.0,394.16 L622.2,393.73 L622.4,393.19 L622.6,392.52 L622.8,391.71 L623.0,390.73 L623.2,389.55 L623.4,388.15 L623.6,386.49 L623.8,384.55 L624.0,382.29 L624.2,379.69 L624.4,376.71 L624.6,373.35 L624.8,369.58 L625.0,365.39 L625.2,360.77 L625.4,355.74 L625.6,350.31 L625.8,344.50 L626.0,338.37 L626.2,331.95 L626.4,325.31 L626.6,318.54 L626.8,311.72 L627.0,304.94 L627.2,298.31 L627.4,291.94 L627.6,285.93 L627.8,280.40 L628.0,275.46 L628.2,271.19 L628.4,267.68 L628.6,265.01 L628.8,263.23 L629.0,262.38 L629.2,262.47 L629.4,263.51 L629.6,265.47 L629.8,268.32 L630.0,271.98 L630.2,276.39 L630.4,281.47 L630.6,287.10 L630.8,293.19 L631.0,299.62 L631.2,306.29 L631.4,313.08 L631.6,319.90 L631.8,326.65 L632.0,333.25 L632.2,339.62 L632.4,345.69 L632.6,351.43 L632.8,356.78 L633.0,361.73 L633.2,366.26 L633.4,370.37 L633.6,374.06 L633.8,377.34 L634.0,380.24 L634.2,382.77 L634.4,384.96 L634.6,386.85 L634.8,388.45 L635.0,389.81 L635.2,390.94 L635.4,391.89 L635.6,392.67 L635.8,393.30 L636.0,393.82 L636.2,394.24 L636.4,394.57 L636.6,394.83 L636.8,395.04 L637.0,395.20 L637.2,395.32 L637.4,395.42 L637.6,395.49 L637.8,395.55 L638.0,395.59 L638.2,395.62 L638.4,395.64 L638.4,395.70 Z" fill="#f01818"/>
<path d="M616.6,395.70 L616.6,395.70 L616.8,395.70 L617.0,395.69 L617.2,395.69 L617.4,395.69 L617.6,395.68 L617.8,395.68 L618.0,395.66 L618.2,395.65 L618.4,395.63 L618.6,395.60 L618.8,395.56 L619.0,395.52 L619.2,395.45 L619.4,395.38 L619.6,395.28 L619.8,395.15 L620.0,395.01 L620.2,394.83 L620.4,394.62 L620.6,394.37 L620.8,394.09 L621.0,393.78 L621.2,393.43 L621.4,393.05 L621.6,392.65 L621.8,392.23 L622.0,391.79 L622.2,391.36 L622.4,390.94 L622.6,390.54 L622.8,390.18 L623.0,389.87 L623.2,389.61 L623.4,389.42 L623.6,389.30 L623.8,389.26 L624.0,389.30 L624.2,389.42 L624.4,389.61 L624.6,389.87 L624.8,390.18 L625.0,390.54 L625.2,390.94 L625.4,391.36 L625.6,391.79 L625.8,392.23 L626.0,392.65 L626.2,393.05 L626.4,393.43 L626.6,393.78 L626.8,394.09 L627.0,394.37 L627.2,394.62 L627.4,394.83 L627.6,395.01 L627.8,395.15 L628.0,395.28 L628.2,395.38 L628.4,395.45 L628.6,395.52 L628.8,395.56 L629.0,395.60 L629.2,395.63 L629.4,395.65 L629.6,395.66 L629.8,395.68 L630.0,395.68 L630.2,395.69 L630.4,395.69 L630.6,395.69 L630.8,395.70 L631.0,395.70 L631.0,395.70 Z" fill="#f01818"/>
<path d="M627.4,395.70 L627.4,395.70 L627.6,395.70 L627.8,395.69 L628.0,395.69 L628.2,395.69 L628.4,395.68 L628.6,395.67 L628.8,395.66 L629.0,395.64 L629.2,395.61 L629.4,395.58 L629.6,395.53 L629.8,395.48 L630.0,395.40 L630.2,395.31 L630.4,395.19 L630.6,395.04 L630.8,394.86 L631.0,394.64 L631.2,394.39 L631.4,394.09 L631.6,393.75 L631.8,393.37 L632.0,392.94 L632.2,392.49 L632.4,391.99 L632.6,391.48 L632.8,390.96 L633.0,390.43 L633.2,389.92 L633.4,389.44 L633.6,389.00 L633.8,388.62 L634.0,388.30 L634.2,388.07 L634.4,387.93 L634.6,387.88 L634.8,387.93 L635.0,388.07 L635.2,388.30 L635.4,388.62 L635.6,389.00 L635.8,389.44 L636.0,389.92 L636.2,390.43 L636.4,390.96 L636.6,391.48 L636.8,391.99 L637.0,392.49 L637.2,392.94 L637.4,393.37 L637.6,393.75 L637.8,394.09 L638.0,394.39 L638.2,394.64 L638.4,394.86 L638.6,395.04 L638.8,395.19 L639.0,395.31 L639.2,395.40 L639.4,395.48 L639.6,395.53 L639.8,395.58 L640.0,395.61 L640.2,395.64 L640.4,395.66 L640.6,395.67 L640.8,395.68 L641.0,395.69 L641.2,395.69 L641.4,395.69 L641.6,395.70 L641.8,395.70 L641.8,395.70 Z" fill="#f01818"/>
<path d="M632.4,395.70 L632.4,395.70 L632.6,395.70 L632.8,395.70 L633.0,395.70 L633.2,395.69 L633.4,395.69 L633.6,395.68 L633.8,395.67 L634.0,395.66 L634.2,395.64 L634.4,395.61 L634.6,395.57 L634.8,395.52 L635.0,395.45 L635.2,395.37 L635.4,395.26 L635.6,395.14 L635.8,394.98 L636.0,394.80 L636.2,394.60 L636.4,394.38 L636.6,394.13 L636.8,393.88 L637.0,393.62 L637.2,393.36 L637.4,393.12 L637.6,392.91 L637.8,392.73 L638.0,392.59 L638.2,392.51 L638.4,392.48 L638.6,392.51 L638.8,392.59 L639.0,392.73 L639.2,392.91 L639.4,393.12 L639.6,393.36 L639.8,393.62 L640.0,393.88 L640.2,394.13 L640.4,394.38 L640.6,394.60 L640.8,394.80 L641.0,394.98 L641.2,395.14 L641.4,395.26 L641.6,395.37 L641.8,395.45 L642.0,395.52 L642.2,395.57 L642.4,395.61 L642.6,395.64 L642.8,395.66 L643.0,395.67 L643.2,395.68 L643.4,395.69 L643.6,395.69 L643.8,395.70 L644.0,395.70 L644.2,395.70 L644.4,395.70 L644.4,395.70 Z" fill="#f01818"/>
<path d="M27.3,395.53 L27.5,395.51 L27.7,395.49 L27.9,395.46 L28.1,395.43 L28.3,395.40 L28.5,395.36 L28.7,395.32 L28.9,395.27 L29.1,395.22 L29.3,395.17 L29.5,395.11 L29.7,395.04 L29.9,394.97 L30.1,394.89 L30.3,394.81 L30.5,394.72 L30.7,394.62 L30.9,394.51 L31.1,394.39 L31.3,394.27 L31.5,394.14 L31.7,393.99 L31.9,393.84 L32.1,393.68 L32.3,393.50 L32.5,393.32 L32.7,393.12 L32.9,392.92 L33.1,392.70 L33.3,392.47 L33.5,392.23 L33.7,391.97 L33.9,391.71 L34.1,391.43 L34.3,391.14 L34.5,390.85 L34.7,390.54 L34.9,390.22 L35.1,389.89 L35.3,389.55 L35.5,389.21 L35.7,388.86 L35.9,388.50 L36.1,388.13 L36.3,387.76 L36.5,387.39 L36.7,387.01 L36.9,386.63 L37.1,386.25 L37.3,385.88 L37.5,385.50 L37.7,385.14 L37.9,384.77 L38.1,384.42 L38.3,384.07 L38.5,383.73 L38.7,383.40 L38.9,383.09 L39.1,382.79 L39.3,382.51 L39.5,382.24 L39.7,381.99 L39.9,381.77 L40.1,381.56 L40.3,381.37 L40.5,381.21 L40.7,381.07 L40.9,380.96 L41.1,380.87 L41.3,380.80 L41.5,380.76 L41.7,380.75 L41.9,380.76 L42.1,380.80 L42.3,380.87 L42.5,380.96 L42.7,381.07 L42.9,381.21 L43.1,381.37 L43.3,381.56 L43.5,381.77 L43.7,381.99 L43.9,382.24 L44.1,382.51 L44.3,382.79 L44.5,383.09 L44.7,383.40 L44.9,383.73 L45.1,384.07 L45.3,384.42 L45.5,384.77 L45.7,385.14 L45.9,385.50 L46.1,385.88 L46.3,386.25 L46.5,386.63 L46.7,387.01 L46.9,387.39 L47.1,387.76 L47.3,388.13 L47.5,388.50 L47.7,388.86 L47.9,389.21 L48.1,389.55 L48.3,389.89 L48.5,390.22 L48.7,390.54 L48.9,390.85 L49.1,391.14 L49.3,391.43 L49.5,391.71 L49.7,391.97 L49.9,392.23 L50.1,392.47 L50.3,392.70 L50.5,392.92 L50.7,393.12 L50.9,393.32 L51.1,393.50 L51.3,393.68 L51.5,393.84 L51.7,393.99 L51.9,394.14 L52.1,394.27 L52.3,394.39 L52.5,394.51 L52.7,394.62 L52.9,394.72 L53.1,394.81 L53.3,394.89 L53.5,394.97 L53.7,395.04 L53.9,395.11 L54.1,395.17 L54.3,395.22 L54.5,395.27 L54.7,395.32 L54.9,395.36 L55.1,395.40 L55.3,395.43 L55.5,395.46 L55.7,395.49 L55.9,395.51 L56.1,395.53" fill="none" stroke="#2a3aa0" stroke-width="0.85"/>
<path d="M61.0,395.53 L61.2,395.48 L61.4,395.43 L61.6,395.36 L61.8,395.27 L62.0,395.17 L62.2,395.06 L62.4,394.91 L62.6,394.75 L62.8,394.56 L63.0,394.33 L63.2,394.08 L63.4,393.79 L63.6,393.47 L63.8,393.11 L64.0,392.72 L64.2,392.29 L64.4,391.82 L64.6,391.32 L64.8,390.78 L65.0,390.22 L65.2,389.64 L65.4,389.05 L65.6,388.45 L65.8,387.84 L66.0,387.25 L66.2,386.67 L66.4,386.12 L66.6,385.61 L66.8,385.15 L67.0,384.73 L67.2,384.39 L67.4,384.11 L67.6,383.90 L67.8,383.78 L68.0,383.74 L68.2,383.78 L68.4,383.90 L68.6,384.11 L68.8,384.39 L69.0,384.73 L69.2,385.15 L69.4,385.61 L69.6,386.12 L69.8,386.67 L70.0,387.25 L70.2,387.84 L70.4,388.45 L70.6,389.05 L70.8,389.64 L71.0,390.22 L71.2,390.78 L71.4,391.32 L71.6,391.82 L71.8,392.29 L72.0,392.72 L72.2,393.11 L72.4,393.47 L72.6,393.79 L72.8,394.08 L73.0,394.33 L73.2,394.56 L73.4,394.75 L73.6,394.91 L73.8,395.06 L74.0,395.17 L74.2,395.27 L74.4,395.36 L74.6,395.43 L74.8,395.48 L75.0,395.53" fill="none" stroke="#d03030" stroke-width="0.85"/>
<path d="M61.8,395.54 L62.0,395.50 L62.2,395.45 L62.4,395.38 L62.6,395.31 L62.8,395.21 L63.0,395.10 L63.2,394.97 L63.4,394.82 L63.6,394.64 L63.8,394.44 L64.0,394.21 L64.2,393.94 L64.4,393.64 L64.6,393.31 L64.8,392.95 L65.0,392.55 L65.2,392.12 L65.4,391.65 L65.6,391.16 L65.8,390.65 L66.0,390.11 L66.2,389.56 L66.4,389.00 L66.6,388.45 L66.8,387.90 L67.0,387.37 L67.2,386.86 L67.4,386.39 L67.6,385.96 L67.8,385.58 L68.0,385.26 L68.2,385.00 L68.4,384.81 L68.6,384.70 L68.8,384.66 L69.0,384.70 L69.2,384.81 L69.4,385.00 L69.6,385.26 L69.8,385.58 L70.0,385.96 L70.2,386.39 L70.4,386.86 L70.6,387.37 L70.8,387.90 L71.0,388.45 L71.2,389.00 L71.4,389.56 L71.6,390.11 L71.8,390.65 L72.0,391.16 L72.2,391.65 L72.4,392.12 L72.6,392.55 L72.8,392.95 L73.0,393.31 L73.2,393.64 L73.4,393.94 L73.6,394.21 L73.8,394.44 L74.0,394.64 L74.2,394.82 L74.4,394.97 L74.6,395.10 L74.8,395.21 L75.0,395.31 L75.2,395.38 L75.4,395.45 L75.6,395.50 L75.8,395.54" fill="none" stroke="#40c040" stroke-width="0.85"/>
<path d="M84.7,395.54 L84.9,395.51 L85.1,395.47 L85.3,395.42 L85.5,395.37 L85.7,395.31 L85.9,395.24 L86.1,395.16 L86.3,395.07 L86.5,394.96 L86.7,394.84 L86.9,394.71 L87.1,394.56 L87.3,394.39 L87.5,394.21 L87.7,394.01 L87.9,393.79 L88.1,393.55 L88.3,393.29 L88.5,393.01 L88.7,392.72 L88.9,392.40 L89.1,392.07 L89.3,391.73 L89.5,391.37 L89.7,391.00 L89.9,390.62 L90.1,390.23 L90.3,389.84 L90.5,389.45 L90.7,389.06 L90.9,388.69 L91.1,388.32 L91.3,387.96 L91.5,387.63 L91.7,387.32 L91.9,387.04 L92.1,386.78 L92.3,386.56 L92.5,386.38 L92.7,386.23 L92.9,386.13 L93.1,386.06 L93.3,386.04 L93.5,386.06 L93.7,386.13 L93.9,386.23 L94.1,386.38 L94.3,386.56 L94.5,386.78 L94.7,387.04 L94.9,387.32 L95.1,387.63 L95.3,387.96 L95.5,388.32 L95.7,388.69 L95.9,389.06 L96.1,389.45 L96.3,389.84 L96.5,390.23 L96.7,390.62 L96.9,391.00 L97.1,391.37 L97.3,391.73 L97.5,392.07 L97.7,392.40 L97.9,392.72 L98.1,393.01 L98.3,393.29 L98.5,393.55 L98.7,393.79 L98.9,394.01 L99.1,394.21 L99.3,394.39 L99.5,394.56 L99.7,394.71 L99.9,394.84 L100.1,394.96 L100.3,395.07 L100.5,395.16 L100.7,395.24 L100.9,395.31 L101.1,395.37 L101.3,395.42 L101.5,395.47 L101.7,395.51 L101.9,395.54" fill="none" stroke="#404040" stroke-width="0.85"/>
<path d="M114.4,395.53 L114.6,395.49 L114.8,395.46 L115.0,395.42 L115.2,395.37 L115.4,395.32 L115.6,395.26 L115.8,395.19 L116.0,395.11 L116.2,395.03 L116.4,394.93 L116.6,394.82 L116.8,394.70 L117.0,394.57 L117.2,394.42 L117.4,394.26 L117.6,394.09 L117.8,393.89 L118.0,393.69 L118.2,393.46 L118.4,393.22 L118.6,392.95 L118.8,392.67 L119.0,392.37 L119.2,392.06 L119.4,391.72 L119.6,391.37 L119.8,391.00 L120.0,390.62 L120.2,390.22 L120.4,389.80 L120.6,389.38 L120.8,388.95 L121.0,388.50 L121.2,388.06 L121.4,387.61 L121.6,387.16 L121.8,386.71 L122.0,386.27 L122.2,385.84 L122.4,385.42 L122.6,385.02 L122.8,384.63 L123.0,384.27 L123.2,383.93 L123.4,383.61 L123.6,383.33 L123.8,383.08 L124.0,382.86 L124.2,382.69 L124.4,382.54 L124.6,382.44 L124.8,382.38 L125.0,382.36 L125.2,382.38 L125.4,382.44 L125.6,382.54 L125.8,382.69 L126.0,382.86 L126.2,383.08 L126.4,383.33 L126.6,383.61 L126.8,383.93 L127.0,384.27 L127.2,384.63 L127.4,385.02 L127.6,385.42 L127.8,385.84 L128.0,386.27 L128.2,386.71 L128.4,387.16 L128.6,387.61 L128.8,388.06 L129.0,388.50 L129.2,388.95 L129.4,389.38 L129.6,389.80 L129.8,390.22 L130.0,390.62 L130.2,391.00 L130.4,391.37 L130.6,391.72 L130.8,392.06 L131.0,392.37 L131.2,392.67 L131.4,392.95 L131.6,393.22 L131.8,393.46 L132.0,393.69 L132.2,393.89 L132.4,394.09 L132.6,394.26 L132.8,394.42 L133.0,394.57 L133.2,394.70 L133.4,394.82 L133.6,394.93 L133.8,395.03 L134.0,395.11 L134.2,395.19 L134.4,395.26 L134.6,395.32 L134.8,395.37 L135.0,395.42 L135.2,395.46 L135.4,395.49 L135.6,395.53" fill="none" stroke="#c02020" stroke-width="0.85"/>
<path d="M135.5,395.53 L135.7,395.46 L135.9,395.36 L136.1,395.23 L136.3,395.06 L136.5,394.83 L136.7,394.55 L136.9,394.18 L137.1,393.74 L137.3,393.20 L137.5,392.56 L137.7,391.82 L137.9,390.97 L138.1,390.01 L138.3,388.97 L138.5,387.84 L138.7,386.67 L138.9,385.47 L139.1,384.27 L139.3,383.13 L139.5,382.07 L139.7,381.14 L139.9,380.37 L140.1,379.80 L140.3,379.44 L140.5,379.32 L140.7,379.44 L140.9,379.80 L141.1,380.37 L141.3,381.14 L141.5,382.07 L141.7,383.13 L141.9,384.27 L142.1,385.47 L142.3,386.67 L142.5,387.84 L142.7,388.97 L142.9,390.01 L143.1,390.97 L143.3,391.82 L143.5,392.56 L143.7,393.20 L143.9,393.74 L144.1,394.18 L144.3,394.55 L144.5,394.83 L144.7,395.06 L144.9,395.23 L145.1,395.36 L145.3,395.46 L145.5,395.53" fill="none" stroke="#3040c0" stroke-width="0.85"/>
<path d="M135.2,395.54 L135.4,395.49 L135.6,395.42 L135.8,395.34 L136.0,395.23 L136.2,395.11 L136.4,394.95 L136.6,394.77 L136.8,394.56 L137.0,394.32 L137.2,394.05 L137.4,393.76 L137.6,393.43 L137.8,393.08 L138.0,392.72 L138.2,392.35 L138.4,391.98 L138.6,391.62 L138.8,391.28 L139.0,390.97 L139.2,390.70 L139.4,390.48 L139.6,390.31 L139.8,390.21 L140.0,390.18 L140.2,390.21 L140.4,390.31 L140.6,390.48 L140.8,390.70 L141.0,390.97 L141.2,391.28 L141.4,391.62 L141.6,391.98 L141.8,392.35 L142.0,392.72 L142.2,393.08 L142.4,393.43 L142.6,393.76 L142.8,394.05 L143.0,394.32 L143.2,394.56 L143.4,394.77 L143.6,394.95 L143.8,395.11 L144.0,395.23 L144.2,395.34 L144.4,395.42 L144.6,395.49 L144.8,395.54" fill="none" stroke="#40c040" stroke-width="0.85"/>
<path d="M156.2,395.50 L156.4,395.42 L156.6,395.31 L156.8,395.18 L157.0,395.02 L157.2,394.81 L157.4,394.57 L157.6,394.29 L157.8,393.97 L158.0,393.62 L158.2,393.24 L158.4,392.84 L158.6,392.43 L158.8,392.03 L159.0,391.65 L159.2,391.31 L159.4,391.03 L159.6,390.82 L159.8,390.68 L160.0,390.64 L160.2,390.68 L160.4,390.82 L160.6,391.03 L160.8,391.31 L161.0,391.65 L161.2,392.03 L161.4,392.43 L161.6,392.84 L161.8,393.24 L162.0,393.62 L162.2,393.97 L162.4,394.29 L162.6,394.57 L162.8,394.81 L163.0,395.02 L163.2,395.18 L163.4,395.31 L163.6,395.42 L163.8,395.50" fill="none" stroke="#3040c0" stroke-width="0.85"/>
<path d="M164.1,395.55 L164.3,395.49 L164.5,395.41 L164.7,395.31 L164.9,395.17 L165.1,395.00 L165.3,394.79 L165.5,394.53 L165.7,394.21 L165.9,393.83 L166.1,393.38 L166.3,392.86 L166.5,392.26 L166.7,391.58 L166.9,390.84 L167.1,390.03 L167.3,389.16 L167.5,388.26 L167.7,387.33 L167.9,386.40 L168.1,385.50 L168.3,384.65 L168.5,383.87 L168.7,383.20 L168.9,382.65 L169.1,382.24 L169.3,381.98 L169.5,381.90 L169.7,381.98 L169.9,382.24 L170.1,382.65 L170.3,383.20 L170.5,383.87 L170.7,384.65 L170.9,385.50 L171.1,386.40 L171.3,387.33 L171.5,388.26 L171.7,389.16 L171.9,390.03 L172.1,390.84 L172.3,391.58 L172.5,392.26 L172.7,392.86 L172.9,393.38 L173.1,393.83 L173.3,394.21 L173.5,394.53 L173.7,394.79 L173.9,395.00 L174.1,395.17 L174.3,395.31 L174.5,395.41 L174.7,395.49 L174.9,395.55" fill="none" stroke="#3040c0" stroke-width="0.85"/>
<path d="M174.4,395.53 L174.6,395.47 L174.8,395.40 L175.0,395.30 L175.2,395.19 L175.4,395.04 L175.6,394.86 L175.8,394.65 L176.0,394.38 L176.2,394.07 L176.4,393.70 L176.6,393.27 L176.8,392.78 L177.0,392.21 L177.2,391.57 L177.4,390.86 L177.6,390.08 L177.8,389.23 L178.0,388.32 L178.2,387.36 L178.4,386.36 L178.6,385.34 L178.8,384.30 L179.0,383.28 L179.2,382.28 L179.4,381.33 L179.6,380.46 L179.8,379.68 L180.0,379.02 L180.2,378.48 L180.4,378.08 L180.6,377.84 L180.8,377.76 L181.0,377.84 L181.2,378.08 L181.4,378.48 L181.6,379.02 L181.8,379.68 L182.0,380.46 L182.2,381.33 L182.4,382.28 L182.6,383.28 L182.8,384.30 L183.0,385.34 L183.2,386.36 L183.4,387.36 L183.6,388.32 L183.8,389.23 L184.0,390.08 L184.2,390.86 L184.4,391.57 L184.6,392.21 L184.8,392.78 L185.0,393.27 L185.2,393.70 L185.4,394.07 L185.6,394.38 L185.8,394.65 L186.0,394.86 L186.2,395.04 L186.4,395.19 L186.6,395.30 L186.8,395.40 L187.0,395.47 L187.2,395.53" fill="none" stroke="#e03030" stroke-width="0.85"/>
<path d="M193.6,395.54 L193.8,395.49 L194.0,395.42 L194.2,395.33 L194.4,395.23 L194.6,395.09 L194.8,394.93 L195.0,394.73 L195.2,394.48 L195.4,394.20 L195.6,393.86 L195.8,393.46 L196.0,393.00 L196.2,392.48 L196.4,391.89 L196.6,391.23 L196.8,390.51 L197.0,389.73 L197.2,388.89 L197.4,388.01 L197.6,387.08 L197.8,386.13 L198.0,385.18 L198.2,384.23 L198.4,383.31 L198.6,382.44 L198.8,381.63 L199.0,380.92 L199.2,380.30 L199.4,379.80 L199.6,379.44 L199.8,379.21 L200.0,379.14 L200.2,379.21 L200.4,379.44 L200.6,379.80 L200.8,380.30 L201.0,380.92 L201.2,381.63 L201.4,382.44 L201.6,383.31 L201.8,384.23 L202.0,385.18 L202.2,386.13 L202.4,387.08 L202.6,388.01 L202.8,388.89 L203.0,389.73 L203.2,390.51 L203.4,391.23 L203.6,391.89 L203.8,392.48 L204.0,393.00 L204.2,393.46 L204.4,393.86 L204.6,394.20 L204.8,394.48 L205.0,394.73 L205.2,394.93 L205.4,395.09 L205.6,395.23 L205.8,395.33 L206.0,395.42 L206.2,395.49 L206.4,395.54" fill="none" stroke="#e03030" stroke-width="0.85"/>
<path d="M210.8,395.54 L211.0,395.48 L211.2,395.41 L211.4,395.32 L211.6,395.20 L211.8,395.06 L212.0,394.88 L212.2,394.67 L212.4,394.43 L212.6,394.14 L212.8,393.81 L213.0,393.44 L213.2,393.03 L213.4,392.58 L213.6,392.10 L213.8,391.61 L214.0,391.10 L214.2,390.59 L214.4,390.09 L214.6,389.62 L214.8,389.20 L215.0,388.82 L215.2,388.52 L215.4,388.30 L215.6,388.16 L215.8,388.11 L216.0,388.16 L216.2,388.30 L216.4,388.52 L216.6,388.82 L216.8,389.20 L217.0,389.62 L217.2,390.09 L217.4,390.59 L217.6,391.10 L217.8,391.61 L218.0,392.10 L218.2,392.58 L218.4,393.03 L218.6,393.44 L218.8,393.81 L219.0,394.14 L219.2,394.43 L219.4,394.67 L219.6,394.88 L219.8,395.06 L220.0,395.20 L220.2,395.32 L220.4,395.41 L220.6,395.48 L220.8,395.54" fill="none" stroke="#3040c0" stroke-width="0.85"/>
<path d="M220.6,395.54 L220.8,395.48 L221.0,395.40 L221.2,395.30 L221.4,395.17 L221.6,395.00 L221.8,394.80 L222.0,394.56 L222.2,394.27 L222.4,393.92 L222.6,393.52 L222.8,393.06 L223.0,392.54 L223.2,391.97 L223.4,391.35 L223.6,390.69 L223.8,389.99 L224.0,389.28 L224.2,388.57 L224.4,387.88 L224.6,387.23 L224.8,386.63 L225.0,386.11 L225.2,385.69 L225.4,385.38 L225.6,385.19 L225.8,385.12 L226.0,385.19 L226.2,385.38 L226.4,385.69 L226.6,386.11 L226.8,386.63 L227.0,387.23 L227.2,387.88 L227.4,388.57 L227.6,389.28 L227.8,389.99 L228.0,390.69 L228.2,391.35 L228.4,391.97 L228.6,392.54 L228.8,393.06 L229.0,393.52 L229.2,393.92 L229.4,394.27 L229.6,394.56 L229.8,394.80 L230.0,395.00 L230.2,395.17 L230.4,395.30 L230.6,395.40 L230.8,395.48 L231.0,395.54" fill="none" stroke="#e07070" stroke-width="0.85"/>
<path d="M306.3,395.50 L306.5,395.42 L306.7,395.31 L306.9,395.17 L307.1,395.00 L307.3,394.77 L307.5,394.49 L307.7,394.14 L307.9,393.72 L308.1,393.21 L308.3,392.61 L308.5,391.91 L308.7,391.11 L308.9,390.21 L309.1,389.22 L309.3,388.14 L309.5,386.98 L309.7,385.77 L309.9,384.54 L310.1,383.31 L310.3,382.10 L310.5,380.97 L310.7,379.93 L310.9,379.03 L311.1,378.29 L311.3,377.75 L311.5,377.41 L311.7,377.30 L311.9,377.41 L312.1,377.75 L312.3,378.29 L312.5,379.03 L312.7,379.93 L312.9,380.97 L313.1,382.10 L313.3,383.31 L313.5,384.54 L313.7,385.77 L313.9,386.98 L314.1,388.14 L314.3,389.22 L314.5,390.21 L314.7,391.11 L314.9,391.91 L315.1,392.61 L315.3,393.21 L315.5,393.72 L315.7,394.14 L315.9,394.49 L316.1,394.77 L316.3,395.00 L316.5,395.17 L316.7,395.31 L316.9,395.42 L317.1,395.50" fill="none" stroke="#202020" stroke-width="0.85"/>
<path d="M314.4,395.55 L314.6,395.50 L314.8,395.44 L315.0,395.37 L315.2,395.28 L315.4,395.18 L315.6,395.04 L315.8,394.88 L316.0,394.69 L316.2,394.46 L316.4,394.19 L316.6,393.87 L316.8,393.50 L317.0,393.07 L317.2,392.59 L317.4,392.04 L317.6,391.42 L317.8,390.73 L318.0,389.96 L318.2,389.13 L318.4,388.23 L318.6,387.27 L318.8,386.24 L319.0,385.17 L319.2,384.05 L319.4,382.91 L319.6,381.75 L319.8,380.59 L320.0,379.45 L320.2,378.34 L320.4,377.28 L320.6,376.30 L320.8,375.40 L321.0,374.61 L321.2,373.94 L321.4,373.41 L321.6,373.02 L321.8,372.78 L322.0,372.70 L322.2,372.78 L322.4,373.02 L322.6,373.41 L322.8,373.94 L323.0,374.61 L323.2,375.40 L323.4,376.30 L323.6,377.28 L323.8,378.34 L324.0,379.45 L324.2,380.59 L324.4,381.75 L324.6,382.91 L324.8,384.05 L325.0,385.17 L325.2,386.24 L325.4,387.27 L325.6,388.23 L325.8,389.13 L326.0,389.96 L326.2,390.73 L326.4,391.42 L326.6,392.04 L326.8,392.59 L327.0,393.07 L327.2,393.50 L327.4,393.87 L327.6,394.19 L327.8,394.46 L328.0,394.69 L328.2,394.88 L328.4,395.04 L328.6,395.18 L328.8,395.28 L329.0,395.37 L329.2,395.44 L329.4,395.50 L329.6,395.55" fill="none" stroke="#c02020" stroke-width="0.85"/>
<path d="M332.5,395.50 L332.7,395.42 L332.9,395.31 L333.1,395.18 L333.3,395.02 L333.5,394.81 L333.7,394.57 L333.9,394.29 L334.1,393.97 L334.3,393.62 L334.5,393.24 L334.7,392.84 L334.9,392.43 L335.1,392.03 L335.3,391.65 L335.5,391.31 L335.7,391.03 L335.9,390.82 L336.1,390.68 L336.3,390.64 L336.5,390.68 L336.7,390.82 L336.9,391.03 L337.1,391.31 L337.3,391.65 L337.5,392.03 L337.7,392.43 L337.9,392.84 L338.1,393.24 L338.3,393.62 L338.5,393.97 L338.7,394.29 L338.9,394.57 L339.1,394.81 L339.3,395.02 L339.5,395.18 L339.7,395.31 L339.9,395.42 L340.1,395.50" fill="none" stroke="#e03030" stroke-width="0.85"/>
<path d="M346.3,395.51 L346.5,395.45 L346.7,395.37 L346.9,395.27 L347.1,395.15 L347.3,395.00 L347.5,394.82 L347.7,394.60 L347.9,394.34 L348.1,394.04 L348.3,393.68 L348.5,393.26 L348.7,392.79 L348.9,392.26 L349.1,391.67 L349.3,391.02 L349.5,390.31 L349.7,389.55 L349.9,388.75 L350.1,387.92 L350.3,387.06 L350.5,386.20 L350.7,385.35 L350.9,384.52 L351.1,383.73 L351.3,383.00 L351.5,382.35 L351.7,381.80 L351.9,381.35 L352.1,381.02 L352.3,380.82 L352.5,380.75 L352.7,380.82 L352.9,381.02 L353.1,381.35 L353.3,381.80 L353.5,382.35 L353.7,383.00 L353.9,383.73 L354.1,384.52 L354.3,385.35 L354.5,386.20 L354.7,387.06 L354.9,387.92 L355.1,388.75 L355.3,389.55 L355.5,390.31 L355.7,391.02 L355.9,391.67 L356.1,392.26 L356.3,392.79 L356.5,393.26 L356.7,393.68 L356.9,394.04 L357.1,394.34 L357.3,394.60 L357.5,394.82 L357.7,395.00 L357.9,395.15 L358.1,395.27 L358.3,395.37 L358.5,395.45 L358.7,395.51" fill="none" stroke="#e03030" stroke-width="0.85"/>
<path d="M352.3,395.55 L352.5,395.49 L352.7,395.42 L352.9,395.32 L353.1,395.20 L353.3,395.05 L353.5,394.86 L353.7,394.63 L353.9,394.36 L354.1,394.04 L354.3,393.66 L354.5,393.23 L354.7,392.75 L354.9,392.22 L355.1,391.63 L355.3,391.01 L355.5,390.37 L355.7,389.70 L355.9,389.04 L356.1,388.39 L356.3,387.78 L356.5,387.22 L356.7,386.74 L356.9,386.34 L357.1,386.05 L357.3,385.87 L357.5,385.81 L357.7,385.87 L357.9,386.05 L358.1,386.34 L358.3,386.74 L358.5,387.22 L358.7,387.78 L358.9,388.39 L359.1,389.04 L359.3,389.70 L359.5,390.37 L359.7,391.01 L359.9,391.63 L360.1,392.22 L360.3,392.75 L360.5,393.23 L360.7,393.66 L360.9,394.04 L361.1,394.36 L361.3,394.63 L361.5,394.86 L361.7,395.05 L361.9,395.20 L362.1,395.32 L362.3,395.42 L362.5,395.49 L362.7,395.55" fill="none" stroke="#3040c0" stroke-width="0.85"/>
<path d="M359.4,395.52 L359.6,395.46 L359.8,395.38 L360.0,395.28 L360.2,395.16 L360.4,395.01 L360.6,394.82 L360.8,394.59 L361.0,394.32 L361.2,393.99 L361.4,393.60 L361.6,393.15 L361.8,392.63 L362.0,392.03 L362.2,391.36 L362.4,390.61 L362.6,389.79 L362.8,388.90 L363.0,387.95 L363.2,386.94 L363.4,385.88 L363.6,384.81 L363.8,383.72 L364.0,382.64 L364.2,381.59 L364.4,380.60 L364.6,379.68 L364.8,378.86 L365.0,378.16 L365.2,377.59 L365.4,377.18 L365.6,376.93 L365.8,376.84 L366.0,376.93 L366.2,377.18 L366.4,377.59 L366.6,378.16 L366.8,378.86 L367.0,379.68 L367.2,380.60 L367.4,381.59 L367.6,382.64 L367.8,383.72 L368.0,384.81 L368.2,385.88 L368.4,386.94 L368.6,387.95 L368.8,388.90 L369.0,389.79 L369.2,390.61 L369.4,391.36 L369.6,392.03 L369.8,392.63 L370.0,393.15 L370.2,393.60 L370.4,393.99 L370.6,394.32 L370.8,394.59 L371.0,394.82 L371.2,395.01 L371.4,395.16 L371.6,395.28 L371.8,395.38 L372.0,395.46 L372.2,395.52" fill="none" stroke="#b06040" stroke-width="0.85"/>
<path d="M402.3,395.55 L402.5,395.49 L402.7,395.42 L402.9,395.32 L403.1,395.20 L403.3,395.05 L403.5,394.86 L403.7,394.63 L403.9,394.36 L404.1,394.04 L404.3,393.66 L404.5,393.23 L404.7,392.75 L404.9,392.22 L405.1,391.63 L405.3,391.01 L405.5,390.37 L405.7,389.70 L405.9,389.04 L406.1,388.39 L406.3,387.78 L406.5,387.22 L406.7,386.74 L406.9,386.34 L407.1,386.05 L407.3,385.87 L407.5,385.81 L407.7,385.87 L407.9,386.05 L408.1,386.34 L408.3,386.74 L408.5,387.22 L408.7,387.78 L408.9,388.39 L409.1,389.04 L409.3,389.70 L409.5,390.37 L409.7,391.01 L409.9,391.63 L410.1,392.22 L410.3,392.75 L410.5,393.23 L410.7,393.66 L410.9,394.04 L411.1,394.36 L411.3,394.63 L411.5,394.86 L411.7,395.05 L411.9,395.20 L412.1,395.32 L412.3,395.42 L412.5,395.49 L412.7,395.55" fill="none" stroke="#40c040" stroke-width="0.85"/>
<path d="M412.5,395.51 L412.7,395.45 L412.9,395.37 L413.1,395.28 L413.3,395.16 L413.5,395.02 L413.7,394.86 L413.9,394.66 L414.1,394.42 L414.3,394.14 L414.5,393.83 L414.7,393.46 L414.9,393.05 L415.1,392.60 L415.3,392.10 L415.5,391.55 L415.7,390.97 L415.9,390.36 L416.1,389.71 L416.3,389.06 L416.5,388.39 L416.7,387.74 L416.9,387.10 L417.1,386.49 L417.3,385.93 L417.5,385.43 L417.7,385.00 L417.9,384.66 L418.1,384.41 L418.3,384.25 L418.5,384.20 L418.7,384.25 L418.9,384.41 L419.1,384.66 L419.3,385.00 L419.5,385.43 L419.7,385.93 L419.9,386.49 L420.1,387.10 L420.3,387.74 L420.5,388.39 L420.7,389.06 L420.9,389.71 L421.1,390.36 L421.3,390.97 L421.5,391.55 L421.7,392.10 L421.9,392.60 L422.1,393.05 L422.3,393.46 L422.5,393.83 L422.7,394.14 L422.9,394.42 L423.1,394.66 L423.3,394.86 L423.5,395.02 L423.7,395.16 L423.9,395.28 L424.1,395.37 L424.3,395.45 L424.5,395.51" fill="none" stroke="#204020" stroke-width="0.85"/>
<path d="M424.0,395.53 L424.2,395.46 L424.4,395.38 L424.6,395.28 L424.8,395.16 L425.0,395.00 L425.2,394.81 L425.4,394.58 L425.6,394.31 L425.8,393.99 L426.0,393.64 L426.2,393.23 L426.4,392.78 L426.6,392.30 L426.8,391.78 L427.0,391.23 L427.2,390.68 L427.4,390.12 L427.6,389.58 L427.8,389.07 L428.0,388.60 L428.2,388.20 L428.4,387.87 L428.6,387.62 L428.8,387.47 L429.0,387.42 L429.2,387.47 L429.4,387.62 L429.6,387.87 L429.8,388.20 L430.0,388.60 L430.2,389.07 L430.4,389.58 L430.6,390.12 L430.8,390.68 L431.0,391.23 L431.2,391.78 L431.4,392.30 L431.6,392.78 L431.8,393.23 L432.0,393.64 L432.2,393.99 L432.4,394.31 L432.6,394.58 L432.8,394.81 L433.0,395.00 L433.2,395.16 L433.4,395.28 L433.6,395.38 L433.8,395.46 L434.0,395.53" fill="none" stroke="#40c040" stroke-width="0.85"/>
<path d="M433.1,395.54 L433.3,395.49 L433.5,395.43 L433.7,395.35 L433.9,395.26 L434.1,395.16 L434.3,395.04 L434.5,394.90 L434.7,394.74 L434.9,394.57 L435.1,394.38 L435.3,394.17 L435.5,393.96 L435.7,393.75 L435.9,393.53 L436.1,393.32 L436.3,393.12 L436.5,392.94 L436.7,392.78 L436.9,392.65 L437.1,392.56 L437.3,392.50 L437.5,392.48 L437.7,392.50 L437.9,392.56 L438.1,392.65 L438.3,392.78 L438.5,392.94 L438.7,393.12 L438.9,393.32 L439.1,393.53 L439.3,393.75 L439.5,393.96 L439.7,394.17 L439.9,394.38 L440.1,394.57 L440.3,394.74 L440.5,394.90 L440.7,395.04 L440.9,395.16 L441.1,395.26 L441.3,395.35 L441.5,395.43 L441.7,395.49 L441.9,395.54" fill="none" stroke="#3040c0" stroke-width="0.85"/>
<path d="M443.5,395.54 L443.7,395.48 L443.9,395.41 L444.1,395.32 L444.3,395.21 L444.5,395.08 L444.7,394.92 L444.9,394.73 L445.1,394.52 L445.3,394.27 L445.5,393.99 L445.7,393.67 L445.9,393.34 L446.1,392.98 L446.3,392.60 L446.5,392.21 L446.7,391.83 L446.9,391.45 L447.1,391.10 L447.3,390.77 L447.5,390.49 L447.7,390.26 L447.9,390.09 L448.1,389.99 L448.3,389.95 L448.5,389.99 L448.7,390.09 L448.9,390.26 L449.1,390.49 L449.3,390.77 L449.5,391.10 L449.7,391.45 L449.9,391.83 L450.1,392.21 L450.3,392.60 L450.5,392.98 L450.7,393.34 L450.9,393.67 L451.1,393.99 L451.3,394.27 L451.5,394.52 L451.7,394.73 L451.9,394.92 L452.1,395.08 L452.3,395.21 L452.5,395.32 L452.7,395.41 L452.9,395.48 L453.1,395.54" fill="none" stroke="#3040c0" stroke-width="0.85"/>
<path d="M452.5,395.54 L452.7,395.48 L452.9,395.38 L453.1,395.26 L453.3,395.10 L453.5,394.90 L453.7,394.64 L453.9,394.33 L454.1,393.96 L454.3,393.53 L454.5,393.03 L454.7,392.49 L454.9,391.89 L455.1,391.27 L455.3,390.64 L455.5,390.02 L455.7,389.44 L455.9,388.92 L456.1,388.48 L456.3,388.15 L456.5,387.95 L456.7,387.88 L456.9,387.95 L457.1,388.15 L457.3,388.48 L457.5,388.92 L457.7,389.44 L457.9,390.02 L458.1,390.64 L458.3,391.27 L458.5,391.89 L458.7,392.49 L458.9,393.03 L459.1,393.53 L459.3,393.96 L459.5,394.33 L459.7,394.64 L459.9,394.90 L460.1,395.10 L460.3,395.26 L460.5,395.38 L460.7,395.48 L460.9,395.54" fill="none" stroke="#e03030" stroke-width="0.85"/>
<path d="M453.1,395.52 L453.3,395.46 L453.5,395.37 L453.7,395.26 L453.9,395.12 L454.1,394.94 L454.3,394.73 L454.5,394.46 L454.7,394.14 L454.9,393.77 L455.1,393.33 L455.3,392.83 L455.5,392.27 L455.7,391.65 L455.9,390.97 L456.1,390.25 L456.3,389.50 L456.5,388.72 L456.7,387.95 L456.9,387.20 L457.1,386.49 L457.3,385.84 L457.5,385.28 L457.7,384.82 L457.9,384.48 L458.1,384.27 L458.3,384.20 L458.5,384.27 L458.7,384.48 L458.9,384.82 L459.1,385.28 L459.3,385.84 L459.5,386.49 L459.7,387.20 L459.9,387.95 L460.1,388.72 L460.3,389.50 L460.5,390.25 L460.7,390.97 L460.9,391.65 L461.1,392.27 L461.3,392.83 L461.5,393.33 L461.7,393.77 L461.9,394.14 L462.1,394.46 L462.3,394.73 L462.5,394.94 L462.7,395.12 L462.9,395.26 L463.1,395.37 L463.3,395.46 L463.5,395.52" fill="none" stroke="#40c040" stroke-width="0.85"/>
<path d="M475.6,395.54 L475.8,395.49 L476.0,395.43 L476.2,395.35 L476.4,395.26 L476.6,395.16 L476.8,395.04 L477.0,394.90 L477.2,394.74 L477.4,394.57 L477.6,394.38 L477.8,394.17 L478.0,393.96 L478.2,393.75 L478.4,393.53 L478.6,393.32 L478.8,393.12 L479.0,392.94 L479.2,392.78 L479.4,392.65 L479.6,392.56 L479.8,392.50 L480.0,392.48 L480.2,392.50 L480.4,392.56 L480.6,392.65 L480.8,392.78 L481.0,392.94 L481.2,393.12 L481.4,393.32 L481.6,393.53 L481.8,393.75 L482.0,393.96 L482.2,394.17 L482.4,394.38 L482.6,394.57 L482.8,394.74 L483.0,394.90 L483.2,395.04 L483.4,395.16 L483.6,395.26 L483.8,395.35 L484.0,395.43 L484.2,395.49 L484.4,395.54" fill="none" stroke="#3040c0" stroke-width="0.85"/>
<path d="M490.2,395.51 L490.4,395.45 L490.6,395.36 L490.8,395.24 L491.0,395.10 L491.2,394.91 L491.4,394.68 L491.6,394.39 L491.8,394.04 L492.0,393.62 L492.2,393.12 L492.4,392.53 L492.6,391.85 L492.8,391.07 L493.0,390.20 L493.2,389.22 L493.4,388.15 L493.6,387.00 L493.8,385.78 L494.0,384.50 L494.2,383.19 L494.4,381.88 L494.6,380.59 L494.8,379.35 L495.0,378.19 L495.2,377.15 L495.4,376.25 L495.6,375.52 L495.8,374.98 L496.0,374.65 L496.2,374.54 L496.4,374.65 L496.6,374.98 L496.8,375.52 L497.0,376.25 L497.2,377.15 L497.4,378.19 L497.6,379.35 L497.8,380.59 L498.0,381.88 L498.2,383.19 L498.4,384.50 L498.6,385.78 L498.8,387.00 L499.0,388.15 L499.2,389.22 L499.4,390.20 L499.6,391.07 L499.8,391.85 L500.0,392.53 L500.2,393.12 L500.4,393.62 L500.6,394.04 L500.8,394.39 L501.0,394.68 L501.2,394.91 L501.4,395.10 L501.6,395.24 L501.8,395.36 L502.0,395.45 L502.2,395.51" fill="none" stroke="#40c040" stroke-width="0.85"/>
<path d="M559.9,395.54 L560.1,395.49 L560.3,395.43 L560.5,395.35 L560.7,395.26 L560.9,395.16 L561.1,395.04 L561.3,394.90 L561.5,394.74 L561.7,394.57 L561.9,394.38 L562.1,394.17 L562.3,393.96 L562.5,393.75 L562.7,393.53 L562.9,393.32 L563.1,393.12 L563.3,392.94 L563.5,392.78 L563.7,392.65 L563.9,392.56 L564.1,392.50 L564.3,392.48 L564.5,392.50 L564.7,392.56 L564.9,392.65 L565.1,392.78 L565.3,392.94 L565.5,393.12 L565.7,393.32 L565.9,393.53 L566.1,393.75 L566.3,393.96 L566.5,394.17 L566.7,394.38 L566.9,394.57 L567.1,394.74 L567.3,394.90 L567.5,395.04 L567.7,395.16 L567.9,395.26 L568.1,395.35 L568.3,395.43 L568.5,395.49 L568.7,395.54" fill="none" stroke="#3040c0" stroke-width="0.85"/>
<path d="M569.8,395.53 L570.0,395.45 L570.2,395.32 L570.4,395.14 L570.6,394.90 L570.8,394.57 L571.0,394.12 L571.2,393.55 L571.4,392.82 L571.6,391.90 L571.8,390.79 L572.0,389.45 L572.2,387.90 L572.4,386.13 L572.6,384.16 L572.8,382.04 L573.0,379.81 L573.2,377.55 L573.4,375.32 L573.6,373.23 L573.8,371.36 L574.0,369.80 L574.2,368.62 L574.4,367.89 L574.6,367.64 L574.8,367.89 L575.0,368.62 L575.2,369.80 L575.4,371.36 L575.6,373.23 L575.8,375.32 L576.0,377.55 L576.2,379.81 L576.4,382.04 L576.6,384.16 L576.8,386.13 L577.0,387.90 L577.2,389.45 L577.4,390.79 L577.6,391.90 L577.8,392.82 L578.0,393.55 L578.2,394.12 L578.4,394.57 L578.6,394.90 L578.8,395.14 L579.0,395.32 L579.2,395.45 L579.4,395.53" fill="none" stroke="#3040c0" stroke-width="0.85"/>
<path d="M580.2,395.50 L580.4,395.40 L580.6,395.26 L580.8,395.07 L581.0,394.81 L581.2,394.46 L581.4,394.01 L581.6,393.43 L581.8,392.71 L582.0,391.83 L582.2,390.78 L582.4,389.56 L582.6,388.17 L582.8,386.62 L583.0,384.95 L583.2,383.20 L583.4,381.42 L583.6,379.67 L583.8,378.02 L584.0,376.55 L584.2,375.32 L584.4,374.39 L584.6,373.82 L584.8,373.62 L585.0,373.82 L585.2,374.39 L585.4,375.32 L585.6,376.55 L585.8,378.02 L586.0,379.67 L586.2,381.42 L586.4,383.20 L586.6,384.95 L586.8,386.62 L587.0,388.17 L587.2,389.56 L587.4,390.78 L587.6,391.83 L587.8,392.71 L588.0,393.43 L588.2,394.01 L588.4,394.46 L588.6,394.81 L588.8,395.07 L589.0,395.26 L589.2,395.40 L589.4,395.50" fill="none" stroke="#40c040" stroke-width="0.85"/>
<path d="M600.1,395.52 L600.3,395.47 L600.5,395.40 L600.7,395.33 L600.9,395.24 L601.1,395.13 L601.3,395.01 L601.5,394.88 L601.7,394.73 L601.9,394.57 L602.1,394.39 L602.3,394.21 L602.5,394.03 L602.7,393.84 L602.9,393.66 L603.1,393.49 L603.3,393.33 L603.5,393.20 L603.7,393.09 L603.9,393.01 L604.1,392.96 L604.3,392.94 L604.5,392.96 L604.7,393.01 L604.9,393.09 L605.1,393.20 L605.3,393.33 L605.5,393.49 L605.7,393.66 L605.9,393.84 L606.1,394.03 L606.3,394.21 L606.5,394.39 L606.7,394.57 L606.9,394.73 L607.1,394.88 L607.3,395.01 L607.5,395.13 L607.7,395.24 L607.9,395.33 L608.1,395.40 L608.3,395.47 L608.5,395.52" fill="none" stroke="#3040c0" stroke-width="0.85"/>
<path d="M624.0,395.54 L624.2,395.50 L624.4,395.44 L624.6,395.36 L624.8,395.27 L625.0,395.16 L625.2,395.02 L625.4,394.86 L625.6,394.68 L625.8,394.45 L626.0,394.20 L626.2,393.91 L626.4,393.58 L626.6,393.22 L626.8,392.82 L627.0,392.38 L627.2,391.92 L627.4,391.43 L627.6,390.91 L627.8,390.39 L628.0,389.85 L628.2,389.33 L628.4,388.82 L628.6,388.33 L628.8,387.89 L629.0,387.49 L629.2,387.14 L629.4,386.87 L629.6,386.67 L629.8,386.54 L630.0,386.50 L630.2,386.54 L630.4,386.67 L630.6,386.87 L630.8,387.14 L631.0,387.49 L631.2,387.89 L631.4,388.33 L631.6,388.82 L631.8,389.33 L632.0,389.85 L632.2,390.39 L632.4,390.91 L632.6,391.43 L632.8,391.92 L633.0,392.38 L633.2,392.82 L633.4,393.22 L633.6,393.58 L633.8,393.91 L634.0,394.20 L634.2,394.45 L634.4,394.68 L634.6,394.86 L634.8,395.02 L635.0,395.16 L635.2,395.27 L635.4,395.36 L635.6,395.44 L635.8,395.50 L636.0,395.54" fill="none" stroke="#a02020" stroke-width="0.85"/>
<path d="M521.2,395.54 L521.4,395.51 L521.6,395.47 L521.8,395.43 L522.0,395.37 L522.2,395.31 L522.4,395.24 L522.6,395.15 L522.8,395.05 L523.0,394.94 L523.2,394.82 L523.4,394.68 L523.6,394.52 L523.8,394.34 L524.0,394.14 L524.2,393.93 L524.4,393.69 L524.6,393.42 L524.8,393.14 L525.0,392.83 L525.2,392.50 L525.4,392.15 L525.6,391.78 L525.8,391.38 L526.0,390.97 L526.2,390.54 L526.4,390.10 L526.6,389.65 L526.8,389.19 L527.0,388.72 L527.2,388.26 L527.4,387.80 L527.6,387.35 L527.8,386.91 L528.0,386.49 L528.2,386.09 L528.4,385.72 L528.6,385.39 L528.8,385.08 L529.0,384.82 L529.2,384.60 L529.4,384.43 L529.6,384.30 L529.8,384.23 L530.0,384.20 L530.2,384.23 L530.4,384.30 L530.6,384.43 L530.8,384.60 L531.0,384.82 L531.2,385.08 L531.4,385.39 L531.6,385.72 L531.8,386.09 L532.0,386.49 L532.2,386.91 L532.4,387.35 L532.6,387.80 L532.8,388.26 L533.0,388.72 L533.2,389.19 L533.4,389.65 L533.6,390.10 L533.8,390.54 L534.0,390.97 L534.2,391.38 L534.4,391.78 L534.6,392.15 L534.8,392.50 L535.0,392.83 L535.2,393.14 L535.4,393.42 L535.6,393.69 L535.8,393.93 L536.0,394.14 L536.2,394.34 L536.4,394.52 L536.6,394.68 L536.8,394.82 L537.0,394.94 L537.2,395.05 L537.4,395.15 L537.6,395.24 L537.8,395.31 L538.0,395.37 L538.2,395.43 L538.4,395.47 L538.6,395.51 L538.8,395.54" fill="none" stroke="#c02020" stroke-width="0.85"/>
<line x1="594" y1="391.2" x2="623" y2="391.2" stroke="#404040" stroke-width="1.1"/>
<line x1="22.6" y1="21.3" x2="648" y2="21.3" stroke="#000" stroke-width="1.1"/>
<line x1="22.6" y1="21" x2="22.6" y2="400.5" stroke="#000" stroke-width="1.1"/>
<line x1="20.8" y1="395.7" x2="24.4" y2="395.7" stroke="#000" stroke-width="0.9"/>
<text x="20.2" y="397.3" font-size="5.3" font-weight="bold" text-anchor="end" stroke="#000" stroke-width="0.25">0</text>
<line x1="21" y1="372.7" x2="24.2" y2="372.7" stroke="#000" stroke-width="0.8"/>
<line x1="20.8" y1="349.7" x2="24.4" y2="349.7" stroke="#000" stroke-width="0.9"/>
<text x="20.2" y="351.3" font-size="5.3" font-weight="bold" text-anchor="end" textLength="11.1" lengthAdjust="spacingAndGlyphs" stroke="#000" stroke-width="0.25">1000</text>
<line x1="21" y1="326.7" x2="24.2" y2="326.7" stroke="#000" stroke-width="0.8"/>
<line x1="20.8" y1="303.7" x2="24.4" y2="303.7" stroke="#000" stroke-width="0.9"/>
<text x="20.2" y="305.3" font-size="5.3" font-weight="bold" text-anchor="end" textLength="11.1" lengthAdjust="spacingAndGlyphs" stroke="#000" stroke-width="0.25">2000</text>
<line x1="21" y1="280.7" x2="24.2" y2="280.7" stroke="#000" stroke-width="0.8"/>
<line x1="20.8" y1="257.7" x2="24.4" y2="257.7" stroke="#000" stroke-width="0.9"/>
<text x="20.2" y="259.3" font-size="5.3" font-weight="bold" text-anchor="end" textLength="11.1" lengthAdjust="spacingAndGlyphs" stroke="#000" stroke-width="0.25">3000</text>
<line x1="21" y1="234.7" x2="24.2" y2="234.7" stroke="#000" stroke-width="0.8"/>
<line x1="20.8" y1="211.7" x2="24.4" y2="211.7" stroke="#000" stroke-width="0.9"/>
<text x="20.2" y="213.3" font-size="5.3" font-weight="bold" text-anchor="end" textLength="11.1" lengthAdjust="spacingAndGlyphs" stroke="#000" stroke-width="0.25">4000</text>
<line x1="21" y1="188.7" x2="24.2" y2="188.7" stroke="#000" stroke-width="0.8"/>
<line x1="20.8" y1="165.7" x2="24.4" y2="165.7" stroke="#000" stroke-width="0.9"/>
<text x="20.2" y="167.3" font-size="5.3" font-weight="bold" text-anchor="end" textLength="11.1" lengthAdjust="spacingAndGlyphs" stroke="#000" stroke-width="0.25">5000</text>
<line x1="21" y1="142.7" x2="24.2" y2="142.7" stroke="#000" stroke-width="0.8"/>
<line x1="20.8" y1="119.7" x2="24.4" y2="119.7" stroke="#000" stroke-width="0.9"/>
<text x="20.2" y="121.3" font-size="5.3" font-weight="bold" text-anchor="end" textLength="11.1" lengthAdjust="spacingAndGlyphs" stroke="#000" stroke-width="0.25">6000</text>
<line x1="21" y1="96.7" x2="24.2" y2="96.7" stroke="#000" stroke-width="0.8"/>
<line x1="20.8" y1="73.7" x2="24.4" y2="73.7" stroke="#000" stroke-width="0.9"/>
<text x="20.2" y="75.3" font-size="5.3" font-weight="bold" text-anchor="end" textLength="11.1" lengthAdjust="spacingAndGlyphs" stroke="#000" stroke-width="0.25">7000</text>
<line x1="21" y1="50.7" x2="24.2" y2="50.7" stroke="#000" stroke-width="0.8"/>
<line x1="20.8" y1="27.7" x2="24.4" y2="27.7" stroke="#000" stroke-width="0.9"/>
<text x="20.2" y="29.3" font-size="5.3" font-weight="bold" text-anchor="end" textLength="11.1" lengthAdjust="spacingAndGlyphs" stroke="#000" stroke-width="0.25">8000</text>
<line x1="68.8" y1="19.2" x2="68.8" y2="22.8" stroke="#000" stroke-width="1"/>
<line x1="121.3" y1="19.2" x2="121.3" y2="22.8" stroke="#000" stroke-width="1"/>
<text x="121.3" y="17.9" font-size="5.2" font-weight="bold" text-anchor="middle">40</text>
<line x1="173.8" y1="19.2" x2="173.8" y2="22.8" stroke="#000" stroke-width="1"/>
<line x1="226.3" y1="19.2" x2="226.3" y2="22.8" stroke="#000" stroke-width="1"/>
<text x="226.3" y="17.9" font-size="5.2" font-weight="bold" text-anchor="middle">50</text>
<line x1="278.8" y1="19.2" x2="278.8" y2="22.8" stroke="#000" stroke-width="1"/>
<line x1="331.3" y1="19.2" x2="331.3" y2="22.8" stroke="#000" stroke-width="1"/>
<text x="331.3" y="17.9" font-size="5.2" font-weight="bold" text-anchor="middle">60</text>
<line x1="383.8" y1="19.2" x2="383.8" y2="22.8" stroke="#000" stroke-width="1"/>
<line x1="436.3" y1="19.2" x2="436.3" y2="22.8" stroke="#000" stroke-width="1"/>
<text x="436.3" y="17.9" font-size="5.2" font-weight="bold" text-anchor="middle">70</text>
<line x1="488.8" y1="19.2" x2="488.8" y2="22.8" stroke="#000" stroke-width="1"/>
<line x1="541.3" y1="19.2" x2="541.3" y2="22.8" stroke="#000" stroke-width="1"/>
<text x="541.3" y="17.9" font-size="5.2" font-weight="bold" text-anchor="middle">80</text>
<line x1="593.8" y1="19.2" x2="593.8" y2="22.8" stroke="#000" stroke-width="1"/>
<line x1="646.3" y1="19.2" x2="646.3" y2="22.8" stroke="#000" stroke-width="1"/>
<text x="646.3" y="17.9" font-size="5.2" font-weight="bold" text-anchor="middle">90</text>
<rect x="22.6" y="395.6" width="625.4" height="4.4" fill="#f4e4ec"/>
<rect x="32.0" y="396.0" width="15.7" height="3.6" fill="#8ccca8"/>
<rect x="52.8" y="396.0" width="11.1" height="3.6" fill="#a8b0e4"/>
<rect x="68.3" y="396.0" width="7.6" height="3.6" fill="#ecf0a0"/>
<rect x="75.9" y="396.0" width="7.5" height="3.6" fill="#c8ec80"/>
<rect x="83.4" y="396.0" width="3.3" height="3.6" fill="#b0e8a0"/>
<rect x="89.5" y="396.0" width="11.4" height="3.6" fill="#f0a0b0"/>
<rect x="121.7" y="396.0" width="12.7" height="3.6" fill="#ecf0a0"/>
<rect x="134.4" y="396.0" width="7.4" height="3.6" fill="#f8aa88"/>
<rect x="141.8" y="396.0" width="11.2" height="3.6" fill="#f0a0b0"/>
<rect x="175.2" y="396.0" width="11.5" height="3.6" fill="#a8b0e4"/>
<rect x="186.7" y="396.0" width="7.5" height="3.6" fill="#b0e8a0"/>
<rect x="194.2" y="396.0" width="4.3" height="3.6" fill="#d8b870"/>
<rect x="198.5" y="396.0" width="7.4" height="3.6" fill="#f0a088"/>
<rect x="233.3" y="396.0" width="3.3" height="3.6" fill="#faf2c4"/>
<rect x="236.6" y="396.0" width="5.6" height="3.6" fill="#f8b094"/>
<rect x="242.2" y="396.0" width="5.8" height="3.6" fill="#f0a0b0"/>
<rect x="283.1" y="396.0" width="5.9" height="3.6" fill="#ecf0a0"/>
<rect x="289.0" y="396.0" width="5.5" height="3.6" fill="#c4c8e0"/>
<rect x="294.5" y="396.0" width="5.5" height="3.6" fill="#98b0b0"/>
<rect x="300.0" y="396.0" width="5.8" height="3.6" fill="#c8d09c"/>
<rect x="316.7" y="396.0" width="10.0" height="3.6" fill="#ecf0a0"/>
<rect x="326.7" y="396.0" width="10.3" height="3.6" fill="#f0a0b0"/>
<rect x="362.0" y="396.0" width="12.3" height="3.6" fill="#ecf0a0"/>
<rect x="374.3" y="396.0" width="10.7" height="3.6" fill="#f0a0b0"/>
<rect x="404.2" y="396.0" width="10.2" height="3.6" fill="#a8b0e4"/>
<rect x="414.4" y="396.0" width="9.8" height="3.6" fill="#b0e8a0"/>
<rect x="464.0" y="396.0" width="9.0" height="3.6" fill="#ecf0a0"/>
<rect x="473.0" y="396.0" width="11.0" height="3.6" fill="#f0a0b0"/>
<rect x="521.3" y="396.0" width="14.7" height="3.6" fill="#ecf0a0"/>
<rect x="536.0" y="396.0" width="11.0" height="3.6" fill="#f0a0b0"/>
<rect x="583.4" y="396.0" width="3.4" height="3.6" fill="#a8b0e4"/>
<rect x="586.8" y="396.0" width="7.1" height="3.6" fill="#8ccca8"/>
<rect x="593.9" y="396.0" width="4.6" height="3.6" fill="#b0e8a0"/>
<rect x="620.0" y="396.0" width="21.6" height="3.6" fill="#f0a088"/>
<line x1="22.6" y1="395.5" x2="648" y2="395.5" stroke="#806878" stroke-width="0.5"/>
<line x1="22.6" y1="400.1" x2="648" y2="400.1" stroke="#a8a8a8" stroke-width="1.1"/>
<path d="M31.7,397.0 L30.2,399.8 L33.2,399.8 Z" fill="#e01818"/>
<path d="M46.7,397.0 L45.2,399.8 L48.2,399.8 Z" fill="#e01818"/>
<path d="M52.5,397.0 L51.0,399.8 L54.0,399.8 Z" fill="#e01818"/>
<path d="M68.3,397.0 L66.8,399.8 L69.8,399.8 Z" fill="#e01818"/>
<path d="M85.8,397.0 L84.3,399.8 L87.3,399.8 Z" fill="#e01818"/>
<path d="M100.0,397.0 L98.5,399.8 L101.5,399.8 Z" fill="#e01818"/>
<path d="M121.5,397.0 L120.0,399.8 L123.0,399.8 Z" fill="#e01818"/>
<path d="M134.5,397.0 L133.0,399.8 L136.0,399.8 Z" fill="#e01818"/>
<path d="M153.0,397.0 L151.5,399.8 L154.5,399.8 Z" fill="#e01818"/>
<path d="M176.0,397.0 L174.5,399.8 L177.5,399.8 Z" fill="#e01818"/>
<path d="M195.5,397.0 L194.0,399.8 L197.0,399.8 Z" fill="#e01818"/>
<path d="M199.0,397.0 L197.5,399.8 L200.5,399.8 Z" fill="#e01818"/>
<path d="M205.0,397.0 L203.5,399.8 L206.5,399.8 Z" fill="#e01818"/>
<path d="M235.0,397.0 L233.5,399.8 L236.5,399.8 Z" fill="#e01818"/>
<path d="M247.5,397.0 L246.0,399.8 L249.0,399.8 Z" fill="#e01818"/>
<path d="M284.2,397.0 L282.7,399.8 L285.7,399.8 Z" fill="#e01818"/>
<path d="M289.2,397.0 L287.7,399.8 L290.7,399.8 Z" fill="#e01818"/>
<path d="M296.7,397.0 L295.2,399.8 L298.2,399.8 Z" fill="#e01818"/>
<path d="M304.7,397.0 L303.2,399.8 L306.2,399.8 Z" fill="#e01818"/>
<path d="M316.7,397.0 L315.2,399.8 L318.2,399.8 Z" fill="#e01818"/>
<path d="M337.0,397.0 L335.5,399.8 L338.5,399.8 Z" fill="#e01818"/>
<path d="M362.0,397.0 L360.5,399.8 L363.5,399.8 Z" fill="#e01818"/>
<path d="M385.0,397.0 L383.5,399.8 L386.5,399.8 Z" fill="#e01818"/>
<path d="M404.0,397.0 L402.5,399.8 L405.5,399.8 Z" fill="#e01818"/>
<path d="M424.3,397.0 L422.8,399.8 L425.8,399.8 Z" fill="#e01818"/>
<path d="M464.0,397.0 L462.5,399.8 L465.5,399.8 Z" fill="#e01818"/>
<path d="M484.0,397.0 L482.5,399.8 L485.5,399.8 Z" fill="#e01818"/>
<path d="M521.2,397.0 L519.7,399.8 L522.7,399.8 Z" fill="#e01818"/>
<path d="M546.8,397.0 L545.3,399.8 L548.3,399.8 Z" fill="#e01818"/>
<path d="M583.8,397.0 L582.3,399.8 L585.3,399.8 Z" fill="#e01818"/>
<path d="M599.2,397.0 L597.7,399.8 L600.7,399.8 Z" fill="#e01818"/>
<path d="M620.7,397.0 L619.2,399.8 L622.2,399.8 Z" fill="#e01818"/>
<path d="M640.3,397.0 L638.8,399.8 L641.8,399.8 Z" fill="#e01818"/>
<line x1="41.4" y1="400.4" x2="41.4" y2="402.5" stroke="#000" stroke-width="0.8"/>
<rect x="35.3" y="402.5" width="12.2" height="7.8" fill="#fff" stroke="#2030b0" stroke-width="1.3"/>
<text x="41.6" y="408.4" font-size="6" font-weight="bold" text-anchor="middle" stroke="#000" stroke-width="0.3">d G</text>
<line x1="80.5" y1="400.4" x2="80.5" y2="402.5" stroke="#000" stroke-width="0.8"/>
<rect x="74.5" y="402.5" width="12.0" height="7.8" fill="#fff" stroke="#40d040" stroke-width="1.3"/>
<text x="80.7" y="408.4" font-size="6" font-weight="bold" text-anchor="middle" stroke="#000" stroke-width="0.3">d A</text>
<line x1="80.5" y1="410.3" x2="80.5" y2="417.6" stroke="#000" stroke-width="0.8"/>
<rect x="74.5" y="417.6" width="12.0" height="7.9" fill="#fff" stroke="#000" stroke-width="1.3"/>
<text x="80.7" y="423.6" font-size="6" font-weight="bold" text-anchor="middle" stroke="#000" stroke-width="0.3">d C</text>
<line x1="128.0" y1="400.4" x2="128.0" y2="402.5" stroke="#000" stroke-width="0.8"/>
<rect x="122.0" y="402.5" width="12.0" height="7.8" fill="#fff" stroke="#000" stroke-width="1.3"/>
<text x="128.2" y="408.4" font-size="6" font-weight="bold" text-anchor="middle" stroke="#000" stroke-width="0.3">d C</text>
<line x1="180.4" y1="400.4" x2="180.4" y2="402.3" stroke="#000" stroke-width="0.8"/>
<rect x="174.3" y="402.3" width="12.3" height="8.2" fill="#fff" stroke="#2838a8" stroke-width="1.3"/>
<text x="180.6" y="408.6" font-size="6" font-weight="bold" text-anchor="middle" stroke="#000" stroke-width="0.3">d G</text>
<line x1="200.5" y1="400.4" x2="200.5" y2="402.5" stroke="#000" stroke-width="0.8"/>
<rect x="194.5" y="402.5" width="12.0" height="7.8" fill="#fff" stroke="#000" stroke-width="1.3"/>
<text x="200.7" y="408.4" font-size="6" font-weight="bold" text-anchor="middle" stroke="#000" stroke-width="0.3">d C</text>
<line x1="236.0" y1="400.4" x2="236.0" y2="402.5" stroke="#000" stroke-width="0.8"/>
<rect x="230.0" y="402.5" width="12.0" height="7.8" fill="#fff" stroke="#000" stroke-width="1.3"/>
<text x="236.2" y="408.4" font-size="6" font-weight="bold" text-anchor="middle" stroke="#000" stroke-width="0.3">d C</text>
<line x1="299.2" y1="400.4" x2="299.2" y2="402.5" stroke="#000" stroke-width="0.8"/>
<rect x="293.6" y="402.5" width="11.2" height="7.8" fill="#fff" stroke="#d02020" stroke-width="1.3"/>
<text x="299.4" y="408.4" font-size="6" font-weight="bold" text-anchor="middle" stroke="#000" stroke-width="0.3">d T</text>
<line x1="295.4" y1="410.3" x2="295.4" y2="417.4" stroke="#40c040" stroke-width="0.9"/>
<rect x="289.4" y="417.4" width="12.4" height="9.1" fill="#c8f4bc" stroke="#40d040" stroke-width="1.3"/>
<text x="295.8" y="424.6" font-size="6" font-weight="bold" text-anchor="middle" stroke="#000" stroke-width="0.3">d A</text>
<line x1="321.9" y1="400.4" x2="321.9" y2="402.5" stroke="#000" stroke-width="0.8"/>
<rect x="315.8" y="402.5" width="12.1" height="7.8" fill="#fff" stroke="#000" stroke-width="1.3"/>
<text x="322.1" y="408.4" font-size="6" font-weight="bold" text-anchor="middle" stroke="#000" stroke-width="0.3">d C</text>
<line x1="376.0" y1="400.4" x2="376.0" y2="402.5" stroke="#000" stroke-width="0.8"/>
<rect x="370.0" y="402.5" width="12.0" height="7.8" fill="#fff" stroke="#d02020" stroke-width="1.3"/>
<text x="376.2" y="408.4" font-size="6" font-weight="bold" text-anchor="middle" stroke="#000" stroke-width="0.3">d T</text>
<line x1="418.6" y1="400.4" x2="418.6" y2="402.5" stroke="#000" stroke-width="0.8"/>
<rect x="412.6" y="402.5" width="12.0" height="7.8" fill="#fff" stroke="#40d040" stroke-width="1.3"/>
<text x="418.8" y="408.4" font-size="6" font-weight="bold" text-anchor="middle" stroke="#000" stroke-width="0.3">d A</text>
<line x1="470.2" y1="400.4" x2="470.2" y2="402.5" stroke="#000" stroke-width="0.8"/>
<rect x="464.2" y="402.5" width="12.0" height="7.8" fill="#fff" stroke="#000" stroke-width="1.3"/>
<text x="470.4" y="408.4" font-size="6" font-weight="bold" text-anchor="middle" stroke="#000" stroke-width="0.3">d C</text>
<line x1="532.0" y1="400.4" x2="532.0" y2="402.5" stroke="#000" stroke-width="0.8"/>
<rect x="526.0" y="402.5" width="12.0" height="7.8" fill="#fff" stroke="#000" stroke-width="1.3"/>
<text x="532.2" y="408.4" font-size="6" font-weight="bold" text-anchor="middle" stroke="#000" stroke-width="0.3">d C</text>
<line x1="585.5" y1="400.4" x2="585.5" y2="402.5" stroke="#000" stroke-width="0.8"/>
<rect x="579.4" y="402.5" width="12.2" height="7.8" fill="#fff" stroke="#2030b0" stroke-width="1.3"/>
<text x="585.7" y="408.4" font-size="6" font-weight="bold" text-anchor="middle" stroke="#000" stroke-width="0.3">d G</text>
<line x1="629.5" y1="400.4" x2="629.5" y2="402.5" stroke="#000" stroke-width="0.8"/>
<rect x="623.2" y="402.5" width="12.6" height="7.8" fill="#fff" stroke="#d02020" stroke-width="1.3"/>
<text x="629.7" y="408.4" font-size="6" font-weight="bold" text-anchor="middle" stroke="#000" stroke-width="0.3">d T</text>
<rect x="31.5" y="4.4" width="16.5" height="6.1" fill="#b4c0bc" stroke="#2a2a2a" stroke-width="0.9"/>
<text x="32.1" y="10.1" font-size="7" font-weight="bold" textLength="14.9" lengthAdjust="spacingAndGlyphs">1811</text>
<rect x="52.8" y="4.4" width="47.7" height="6.1" fill="#b4c0bc" stroke="#2a2a2a" stroke-width="0.9"/>
<text x="53.4" y="10.1" font-size="7" font-weight="bold" textLength="32.3" lengthAdjust="spacingAndGlyphs">12.7|12.708</text>
<rect x="121.7" y="4.4" width="30.8" height="6.1" fill="#b4c0bc" stroke="#2a2a2a" stroke-width="0.9"/>
<text x="122.3" y="10.1" font-size="7" font-weight="bold" textLength="16.3" lengthAdjust="spacingAndGlyphs">12.808</text>
<rect x="174.8" y="4.4" width="19.3" height="6.1" fill="#b4c0bc" stroke="#2a2a2a" stroke-width="0.9"/>
<text x="175.4" y="10.1" font-size="7" font-weight="bold" textLength="12.9" lengthAdjust="spacingAndGlyphs">7097</text>
<rect x="194.1" y="4.4" width="11.6" height="6.1" fill="#b4c0bc" stroke="#2a2a2a" stroke-width="0.9"/>
<text x="194.7" y="10.1" font-size="7" font-weight="bold" textLength="7.5" lengthAdjust="spacingAndGlyphs">3...</text>
<rect x="234.3" y="4.4" width="13.8" height="6.1" fill="#b4c0bc" stroke="#2a2a2a" stroke-width="0.9"/>
<text x="234.9" y="10.1" font-size="7" font-weight="bold" textLength="12.2" lengthAdjust="spacingAndGlyphs">82...</text>
<rect x="283.9" y="4.4" width="22.2" height="6.1" fill="#b4c0bc" stroke="#2a2a2a" stroke-width="0.9"/>
<text x="284.5" y="10.1" font-size="7" font-weight="bold" textLength="20.6" lengthAdjust="spacingAndGlyphs">9/7828</text>
<rect x="316.7" y="4.4" width="21.3" height="6.1" fill="#b4c0bc" stroke="#2a2a2a" stroke-width="0.9"/>
<text x="317.3" y="10.1" font-size="7" font-weight="bold" textLength="19.7" lengthAdjust="spacingAndGlyphs">18964</text>
<rect x="362.1" y="4.4" width="22.5" height="6.1" fill="#b4c0bc" stroke="#2a2a2a" stroke-width="0.9"/>
<text x="362.7" y="10.1" font-size="7" font-weight="bold" textLength="17.1" lengthAdjust="spacingAndGlyphs">11261</text>
<rect x="404.0" y="4.4" width="20.7" height="6.1" fill="#b4c0bc" stroke="#2a2a2a" stroke-width="0.9"/>
<text x="404.6" y="10.1" font-size="7" font-weight="bold" textLength="13.5" lengthAdjust="spacingAndGlyphs">4216</text>
<rect x="464.3" y="4.4" width="19.7" height="6.1" fill="#b4c0bc" stroke="#2a2a2a" stroke-width="0.9"/>
<text x="464.9" y="10.1" font-size="7" font-weight="bold" textLength="14.4" lengthAdjust="spacingAndGlyphs">4630</text>
<rect x="521.4" y="4.4" width="26.2" height="6.1" fill="#b4c0bc" stroke="#2a2a2a" stroke-width="0.9"/>
<text x="522.0" y="10.1" font-size="7" font-weight="bold" textLength="12.1" lengthAdjust="spacingAndGlyphs">8697</text>
<rect x="583.4" y="4.4" width="15.5" height="6.1" fill="#b4c0bc" stroke="#2a2a2a" stroke-width="0.9"/>
<text x="584.0" y="10.1" font-size="7" font-weight="bold" textLength="13.9" lengthAdjust="spacingAndGlyphs">14...</text>
<rect x="620.0" y="4.4" width="22.0" height="6.1" fill="#b4c0bc" stroke="#2a2a2a" stroke-width="0.9"/>
<text x="620.6" y="10.1" font-size="7" font-weight="bold" textLength="17.0" lengthAdjust="spacingAndGlyphs">16766</text>
<text x="110" y="106.9" font-size="14.8" font-weight="bold" text-anchor="middle">1</text>
<line x1="108.5" y1="111.5" x2="90.9" y2="177.0" stroke="#000" stroke-width="1.35"/>
<path d="M89.1,183.8 L88.5,176.4 L93.3,177.7 Z" fill="#000"/>
<text x="459" y="115.6" font-size="14.8" font-weight="bold" text-anchor="middle">3</text>
<line x1="447.4" y1="109.7" x2="391.0" y2="109.7" stroke="#000" stroke-width="1.35"/>
<path d="M384.0,109.7 L391.0,107.2 L391.0,112.2 Z" fill="#000"/>
<line x1="458.3" y1="122.6" x2="424.2" y2="210.1" stroke="#000" stroke-width="1.35"/>
<path d="M421.7,216.6 L421.9,209.2 L426.6,211.0 Z" fill="#000"/>
<line x1="463.8" y1="135.4" x2="463.8" y2="342.0" stroke="#000" stroke-width="1.35"/>
<path d="M463.8,349.0 L461.3,342.0 L466.3,342.0 Z" fill="#000"/>
<text x="525" y="136.9" font-size="14.8" font-weight="bold" text-anchor="middle">2</text>
<line x1="522.3" y1="146.5" x2="496.8" y2="348.6" stroke="#000" stroke-width="1.35"/>
<path d="M495.9,355.5 L494.3,348.2 L499.3,348.9 Z" fill="#000"/>
<line x1="533.8" y1="146.5" x2="564.2" y2="346.5" stroke="#000" stroke-width="1.35"/>
<path d="M565.3,353.4 L561.8,346.9 L566.7,346.1 Z" fill="#000"/>
</svg></body></html>
